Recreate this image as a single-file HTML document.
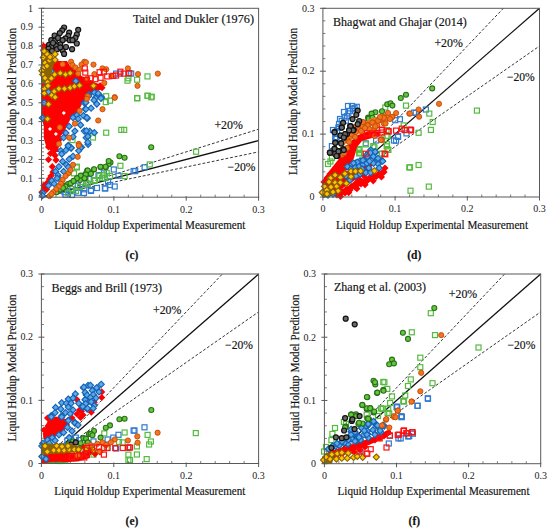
<!DOCTYPE html><html><head><meta charset="utf-8"><style>html,body{margin:0;padding:0;background:#fff;width:550px;height:530px;overflow:hidden}svg{display:block}text{font-family:"Liberation Serif",serif;stroke:#222;stroke-width:0.18px}text.t{stroke:none}</style></head><body>
<svg width="550" height="530" viewBox="0 0 550 530">
<rect width="550" height="530" fill="#fff"/>
<g id="pc">
<line x1="41.5" y1="197.2" x2="258.6" y2="140.53" stroke="#111" stroke-width="1.3"/>
<line x1="41.5" y1="197.2" x2="258.6" y2="129.19" stroke="#2a2a2a" stroke-width="0.95" stroke-dasharray="2.8,1.9"/>
<line x1="41.5" y1="197.2" x2="258.6" y2="151.86" stroke="#2a2a2a" stroke-width="0.95" stroke-dasharray="2.8,1.9"/>
<rect x="113.6" y="71.1" width="5" height="5" fill="none" stroke="#2f7ad0" stroke-width="1.2"/>
<rect x="117.5" y="71.1" width="5" height="5" fill="none" stroke="#2f7ad0" stroke-width="1.2"/>
<rect x="125.9" y="71.1" width="5" height="5" fill="none" stroke="#2f7ad0" stroke-width="1.2"/>
<rect x="128.7" y="71.1" width="5" height="5" fill="none" stroke="#2f7ad0" stroke-width="1.2"/>
<rect x="75.2" y="183.1" width="5" height="5" fill="none" stroke="#2f7ad0" stroke-width="1.2"/>
<rect x="83.7" y="181.2" width="5" height="5" fill="none" stroke="#2f7ad0" stroke-width="1.2"/>
<rect x="62.0" y="189.7" width="5" height="5" fill="none" stroke="#2f7ad0" stroke-width="1.2"/>
<rect x="68.6" y="188.7" width="5" height="5" fill="none" stroke="#2f7ad0" stroke-width="1.2"/>
<rect x="81.8" y="186.8" width="5" height="5" fill="none" stroke="#2f7ad0" stroke-width="1.2"/>
<rect x="111.3" y="167.0" width="5" height="5" fill="none" stroke="#2f7ad0" stroke-width="1.2"/>
<rect x="131.1" y="168.5" width="5" height="5" fill="none" stroke="#2f7ad0" stroke-width="1.2"/>
<rect x="116.0" y="173.2" width="5" height="5" fill="none" stroke="#2f7ad0" stroke-width="1.2"/>
<rect x="96.7" y="172.7" width="5" height="5" fill="none" stroke="#2f7ad0" stroke-width="1.2"/>
<rect x="101.4" y="170.8" width="5" height="5" fill="none" stroke="#2f7ad0" stroke-width="1.2"/>
<rect x="105.6" y="179.3" width="5" height="5" fill="none" stroke="#2f7ad0" stroke-width="1.2"/>
<rect x="112.2" y="184.0" width="5" height="5" fill="none" stroke="#2f7ad0" stroke-width="1.2"/>
<rect x="102.8" y="185.9" width="5" height="5" fill="none" stroke="#2f7ad0" stroke-width="1.2"/>
<rect x="88.6" y="187.8" width="5" height="5" fill="none" stroke="#2f7ad0" stroke-width="1.2"/>
<rect x="86.3" y="176.5" width="5" height="5" fill="none" stroke="#2f7ad0" stroke-width="1.2"/>
<rect x="132.7" y="168.6" width="5" height="5" fill="none" stroke="#2f7ad0" stroke-width="1.2"/>
<rect x="142.1" y="164.8" width="5" height="5" fill="none" stroke="#2f7ad0" stroke-width="1.2"/>
<rect x="63.0" y="192.2" width="5" height="5" fill="none" stroke="#2f7ad0" stroke-width="1.2"/>
<rect x="75.7" y="190.3" width="5" height="5" fill="none" stroke="#2f7ad0" stroke-width="1.2"/>
<rect x="88.4" y="188.4" width="5" height="5" fill="none" stroke="#2f7ad0" stroke-width="1.2"/>
<rect x="102.4" y="185.9" width="5" height="5" fill="none" stroke="#2f7ad0" stroke-width="1.2"/>
<rect x="96.0" y="173.1" width="5" height="5" fill="none" stroke="#2f7ad0" stroke-width="1.2"/>
<rect x="69.5" y="192.5" width="5" height="5" fill="none" stroke="#2f7ad0" stroke-width="1.2"/>
<rect x="81.5" y="190.5" width="5" height="5" fill="none" stroke="#2f7ad0" stroke-width="1.2"/>
<rect x="94.5" y="185.5" width="5" height="5" fill="none" stroke="#2f7ad0" stroke-width="1.2"/>
<rect x="107.5" y="182.5" width="5" height="5" fill="none" stroke="#2f7ad0" stroke-width="1.2"/>
<rect x="70.0" y="137.6" width="5" height="5" fill="none" stroke="#55bb40" stroke-width="1.2"/>
<rect x="74.3" y="164.2" width="5" height="5" fill="none" stroke="#55bb40" stroke-width="1.2"/>
<rect x="71.5" y="170.8" width="5" height="5" fill="none" stroke="#55bb40" stroke-width="1.2"/>
<rect x="125.0" y="78.2" width="5" height="5" fill="none" stroke="#55bb40" stroke-width="1.2"/>
<rect x="125.9" y="75.8" width="5" height="5" fill="none" stroke="#55bb40" stroke-width="1.2"/>
<rect x="103.7" y="93.7" width="5" height="5" fill="none" stroke="#55bb40" stroke-width="1.2"/>
<rect x="145.0" y="73.9" width="5" height="5" fill="none" stroke="#55bb40" stroke-width="1.2"/>
<rect x="134.6" y="77.2" width="5" height="5" fill="none" stroke="#55bb40" stroke-width="1.2"/>
<rect x="134.6" y="95.6" width="5" height="5" fill="none" stroke="#55bb40" stroke-width="1.2"/>
<rect x="145.0" y="93.3" width="5" height="5" fill="none" stroke="#55bb40" stroke-width="1.2"/>
<rect x="149.2" y="94.2" width="5" height="5" fill="none" stroke="#55bb40" stroke-width="1.2"/>
<rect x="103.3" y="99.6" width="5" height="5" fill="none" stroke="#55bb40" stroke-width="1.2"/>
<rect x="107.5" y="98.2" width="5" height="5" fill="none" stroke="#55bb40" stroke-width="1.2"/>
<rect x="103.7" y="130.2" width="5" height="5" fill="none" stroke="#55bb40" stroke-width="1.2"/>
<rect x="118.8" y="127.4" width="5" height="5" fill="none" stroke="#55bb40" stroke-width="1.2"/>
<rect x="121.7" y="127.4" width="5" height="5" fill="none" stroke="#55bb40" stroke-width="1.2"/>
<rect x="90.5" y="135.0" width="5" height="5" fill="none" stroke="#55bb40" stroke-width="1.2"/>
<rect x="117.9" y="163.3" width="5" height="5" fill="none" stroke="#55bb40" stroke-width="1.2"/>
<rect x="122.1" y="173.6" width="5" height="5" fill="none" stroke="#55bb40" stroke-width="1.2"/>
<rect x="104.2" y="170.3" width="5" height="5" fill="none" stroke="#55bb40" stroke-width="1.2"/>
<rect x="100.9" y="172.7" width="5" height="5" fill="none" stroke="#55bb40" stroke-width="1.2"/>
<rect x="102.3" y="175.5" width="5" height="5" fill="none" stroke="#55bb40" stroke-width="1.2"/>
<rect x="91.9" y="178.3" width="5" height="5" fill="none" stroke="#55bb40" stroke-width="1.2"/>
<rect x="83.9" y="180.2" width="5" height="5" fill="none" stroke="#55bb40" stroke-width="1.2"/>
<rect x="96.7" y="173.6" width="5" height="5" fill="none" stroke="#55bb40" stroke-width="1.2"/>
<rect x="134.8" y="95.8" width="5" height="5" fill="none" stroke="#55bb40" stroke-width="1.2"/>
<rect x="145.2" y="93.3" width="5" height="5" fill="none" stroke="#55bb40" stroke-width="1.2"/>
<rect x="148.9" y="94.8" width="5" height="5" fill="none" stroke="#55bb40" stroke-width="1.2"/>
<rect x="147.3" y="161.9" width="5" height="5" fill="none" stroke="#55bb40" stroke-width="1.2"/>
<rect x="193.6" y="149.2" width="5" height="5" fill="none" stroke="#55bb40" stroke-width="1.2"/>
<rect x="69.5" y="186.5" width="5" height="5" fill="none" stroke="#55bb40" stroke-width="1.2"/>
<rect x="77.5" y="184.5" width="5" height="5" fill="none" stroke="#55bb40" stroke-width="1.2"/>
<rect x="85.5" y="181.5" width="5" height="5" fill="none" stroke="#55bb40" stroke-width="1.2"/>
<rect x="92.5" y="177.5" width="5" height="5" fill="none" stroke="#55bb40" stroke-width="1.2"/>
<rect x="99.5" y="175.5" width="5" height="5" fill="none" stroke="#55bb40" stroke-width="1.2"/>
<rect x="107.5" y="173.5" width="5" height="5" fill="none" stroke="#55bb40" stroke-width="1.2"/>
<rect x="65.5" y="190.5" width="5" height="5" fill="none" stroke="#55bb40" stroke-width="1.2"/>
<rect x="73.5" y="188.5" width="5" height="5" fill="none" stroke="#55bb40" stroke-width="1.2"/>
<rect x="74.4" y="164.9" width="5" height="5" fill="none" stroke="#55bb40" stroke-width="1.2"/>
<path d="M41.5 47L46 45L50 50L52 57L58 61L67 61L70 66L74 70L77 75L84 77L90 80L96 83L103 85L104 89L96 91L90 96L86 99L82 104L79 110L74 115L70 120L69 122L66 128L64 133L62 140L59 146L58 152L52 152L46 146L43.8 138L43.8 126L42 120L41.5 110Z" fill="#ff0000"/>
<path d="M48.5 143.3L52.1 146.9L48.5 150.5L44.9 146.9Z" fill="#ff0000"/>
<path d="M54.2 147.1L57.80 150.7L54.2 154.29L50.6 150.7Z" fill="#ff0000"/>
<path d="M50.4 149.9L54.0 153.5L50.4 157.1L46.8 153.5Z" fill="#ff0000"/>
<path d="M55.1 151.8L58.7 155.4L55.1 159.0L51.5 155.4Z" fill="#ff0000"/>
<path d="M48.5 156.0L52.1 159.6L48.5 163.2L44.9 159.6Z" fill="#ff0000"/>
<path d="M56 156.5L59.6 160.1L56 163.7L52.4 160.1Z" fill="#ff0000"/>
<path d="M52.3 163.1L55.9 166.7L52.3 170.29L48.69 166.7Z" fill="#ff0000"/>
<path d="M49.4 175.4L53.0 179L49.4 182.6L45.8 179Z" fill="#ff0000"/>
<path d="M43.8 182.0L47.4 185.6L43.8 189.2L40.19 185.6Z" fill="#ff0000"/>
<path d="M46.6 185.70L50.2 189.3L46.6 192.9L43.0 189.3Z" fill="#ff0000"/>
<path d="M41.9 188.6L45.5 192.2L41.9 195.79L38.3 192.2Z" fill="#ff0000"/>
<path d="M51 172.4L54.6 176L51 179.6L47.4 176Z" fill="#ff0000"/>
<path d="M53 168.4L56.6 172L53 175.6L49.4 172Z" fill="#ff0000"/>
<path d="M47 179.4L50.6 183L47 186.6L43.4 183Z" fill="#ff0000"/>
<path d="M44 185.4L47.6 189L44 192.6L40.4 189Z" fill="#ff0000"/>
<path d="M100.1 82.2L103.69 85.8L100.1 89.39L96.5 85.8Z" fill="#ff0000"/>
<path d="M102 84.10L105.6 87.7L102 91.3L98.4 87.7Z" fill="#ff0000"/>
<path d="M89.7 84.10L93.3 87.7L89.7 91.3L86.10 87.7Z" fill="#ff0000"/>
<path d="M86.9 87.0L90.5 90.6L86.9 94.19L83.30 90.6Z" fill="#ff0000"/>
<path d="M43.5 42.4L47.1 46L43.5 49.6L39.9 46Z" fill="#ff0000"/>
<path d="M43.5 46.4L47.1 50L43.5 53.6L39.9 50Z" fill="#ff0000"/>
<path d="M46 43.4L49.6 47L46 50.6L42.4 47Z" fill="#ff0000"/>
<path d="M88 80.4L91.6 84L88 87.6L84.4 84Z" fill="#ff0000"/>
<path d="M84 76.4L87.6 80L84 83.6L80.4 80Z" fill="#ff0000"/>
<path d="M80 74.4L83.6 78L80 81.6L76.4 78Z" fill="#ff0000"/>
<path d="M70 65.4L73.6 69L70 72.6L66.4 69Z" fill="#ff0000"/>
<path d="M74 68.4L77.6 72L74 75.6L70.4 72Z" fill="#ff0000"/>
<path d="M59.3 124.7L61.3 126.7L59.3 128.7L57.3 126.7Z" fill="#fff"/>
<path d="M63.8 111.1L65.8 113.1L63.8 115.1L61.8 113.1Z" fill="#fff"/>
<path d="M55.9 132L57.9 134L55.9 136L53.9 134Z" fill="#fff"/>
<path d="M62.6 134L64.6 136L62.6 138L60.6 136Z" fill="#fff"/>
<path d="M50 127L52 129L50 131L48 129Z" fill="#fff"/>
<path d="M51.3 68.10L54.4 71.2L51.3 74.3L48.19 71.2Z" fill="#5ea8e6" stroke="#1262b5" stroke-width="1.1"/>
<path d="M44.7 78.0L47.80 81.1L44.7 84.19L41.6 81.1Z" fill="#5ea8e6" stroke="#1262b5" stroke-width="1.1"/>
<path d="M75.8 78.0L78.89 81.1L75.8 84.19L72.7 81.1Z" fill="#5ea8e6" stroke="#1262b5" stroke-width="1.1"/>
<path d="M48.5 88.9L51.6 92L48.5 95.1L45.4 92Z" fill="#5ea8e6" stroke="#1262b5" stroke-width="1.1"/>
<path d="M44.2 99.7L47.30 102.8L44.2 105.89L41.1 102.8Z" fill="#5ea8e6" stroke="#1262b5" stroke-width="1.1"/>
<path d="M42.4 114.80L45.5 117.9L42.4 121.0L39.3 117.9Z" fill="#5ea8e6" stroke="#1262b5" stroke-width="1.1"/>
<path d="M84.3 99.7L87.39 102.8L84.3 105.89L81.2 102.8Z" fill="#5ea8e6" stroke="#1262b5" stroke-width="1.1"/>
<path d="M85.3 105.9L88.39 109L85.3 112.1L82.2 109Z" fill="#5ea8e6" stroke="#1262b5" stroke-width="1.1"/>
<path d="M76.8 112.0L79.89 115.1L76.8 118.19L73.7 115.1Z" fill="#5ea8e6" stroke="#1262b5" stroke-width="1.1"/>
<path d="M73 114.4L76.1 117.5L73 120.6L69.9 117.5Z" fill="#5ea8e6" stroke="#1262b5" stroke-width="1.1"/>
<path d="M78.2 115.80L81.3 118.9L78.2 122.0L75.10 118.9Z" fill="#5ea8e6" stroke="#1262b5" stroke-width="1.1"/>
<path d="M83.4 112.5L86.5 115.6L83.4 118.69L80.30 115.6Z" fill="#5ea8e6" stroke="#1262b5" stroke-width="1.1"/>
<path d="M87.2 115.30L90.3 118.4L87.2 121.5L84.10 118.4Z" fill="#5ea8e6" stroke="#1262b5" stroke-width="1.1"/>
<path d="M80.6 121.9L83.69 125L80.6 128.1L77.5 125Z" fill="#5ea8e6" stroke="#1262b5" stroke-width="1.1"/>
<path d="M69.2 123.30L72.3 126.4L69.2 129.5L66.10 126.4Z" fill="#5ea8e6" stroke="#1262b5" stroke-width="1.1"/>
<path d="M74.9 128.0L78.0 131.1L74.9 134.2L71.80 131.1Z" fill="#5ea8e6" stroke="#1262b5" stroke-width="1.1"/>
<path d="M65.9 129.9L69.0 133L65.9 136.1L62.80 133Z" fill="#5ea8e6" stroke="#1262b5" stroke-width="1.1"/>
<path d="M63.6 134.6L66.7 137.7L63.6 140.79L60.5 137.7Z" fill="#5ea8e6" stroke="#1262b5" stroke-width="1.1"/>
<path d="M73 133.70L76.1 136.8L73 139.9L69.9 136.8Z" fill="#5ea8e6" stroke="#1262b5" stroke-width="1.1"/>
<path d="M84.3 128.0L87.39 131.1L84.3 134.2L81.2 131.1Z" fill="#5ea8e6" stroke="#1262b5" stroke-width="1.1"/>
<path d="M86.2 134.6L89.3 137.7L86.2 140.79L83.10 137.7Z" fill="#5ea8e6" stroke="#1262b5" stroke-width="1.1"/>
<path d="M68.3 142.20L71.39 145.3L68.3 148.4L65.2 145.3Z" fill="#5ea8e6" stroke="#1262b5" stroke-width="1.1"/>
<path d="M71.1 145.0L74.19 148.1L71.1 151.2L68.0 148.1Z" fill="#5ea8e6" stroke="#1262b5" stroke-width="1.1"/>
<path d="M81.5 144.1L84.6 147.2L81.5 150.29L78.4 147.2Z" fill="#5ea8e6" stroke="#1262b5" stroke-width="1.1"/>
<path d="M88.1 141.20L91.19 144.3L88.1 147.4L85.0 144.3Z" fill="#5ea8e6" stroke="#1262b5" stroke-width="1.1"/>
<path d="M60.8 147.6L63.9 150.7L60.8 153.79L57.69 150.7Z" fill="#5ea8e6" stroke="#1262b5" stroke-width="1.1"/>
<path d="M65.9 147.1L69.0 150.2L65.9 153.29L62.80 150.2Z" fill="#5ea8e6" stroke="#1262b5" stroke-width="1.1"/>
<path d="M71.1 144.70L74.19 147.8L71.1 150.9L68.0 147.8Z" fill="#5ea8e6" stroke="#1262b5" stroke-width="1.1"/>
<path d="M68.3 142.8L71.39 145.9L68.3 149.0L65.2 145.9Z" fill="#5ea8e6" stroke="#1262b5" stroke-width="1.1"/>
<path d="M80.6 144.70L83.69 147.8L80.6 150.9L77.5 147.8Z" fill="#5ea8e6" stroke="#1262b5" stroke-width="1.1"/>
<path d="M78.7 147.6L81.8 150.7L78.7 153.79L75.60 150.7Z" fill="#5ea8e6" stroke="#1262b5" stroke-width="1.1"/>
<path d="M61.7 150.9L64.8 154L61.7 157.1L58.6 154Z" fill="#5ea8e6" stroke="#1262b5" stroke-width="1.1"/>
<path d="M73 153.20L76.1 156.3L73 159.4L69.9 156.3Z" fill="#5ea8e6" stroke="#1262b5" stroke-width="1.1"/>
<path d="M69.2 156.1L72.3 159.2L69.2 162.29L66.10 159.2Z" fill="#5ea8e6" stroke="#1262b5" stroke-width="1.1"/>
<path d="M62.6 158.4L65.7 161.5L62.6 164.6L59.5 161.5Z" fill="#5ea8e6" stroke="#1262b5" stroke-width="1.1"/>
<path d="M66.4 161.70L69.5 164.8L66.4 167.9L63.30 164.8Z" fill="#5ea8e6" stroke="#1262b5" stroke-width="1.1"/>
<path d="M68.3 164.1L71.39 167.2L68.3 170.29L65.2 167.2Z" fill="#5ea8e6" stroke="#1262b5" stroke-width="1.1"/>
<path d="M58.9 163.6L62.0 166.7L58.9 169.79L55.8 166.7Z" fill="#5ea8e6" stroke="#1262b5" stroke-width="1.1"/>
<path d="M55.6 168.3L58.7 171.4L55.6 174.5L52.5 171.4Z" fill="#5ea8e6" stroke="#1262b5" stroke-width="1.1"/>
<path d="M63.6 168.3L66.7 171.4L63.6 174.5L60.5 171.4Z" fill="#5ea8e6" stroke="#1262b5" stroke-width="1.1"/>
<path d="M57.9 172.1L61.0 175.2L57.9 178.29L54.8 175.2Z" fill="#5ea8e6" stroke="#1262b5" stroke-width="1.1"/>
<path d="M59.8 175.9L62.9 179L59.8 182.1L56.69 179Z" fill="#5ea8e6" stroke="#1262b5" stroke-width="1.1"/>
<path d="M51.8 177.70L54.9 180.8L51.8 183.9L48.69 180.8Z" fill="#5ea8e6" stroke="#1262b5" stroke-width="1.1"/>
<path d="M54.2 180.6L57.30 183.7L54.2 186.79L51.1 183.7Z" fill="#5ea8e6" stroke="#1262b5" stroke-width="1.1"/>
<path d="M48.5 182.5L51.6 185.6L48.5 188.7L45.4 185.6Z" fill="#5ea8e6" stroke="#1262b5" stroke-width="1.1"/>
<path d="M42.8 190.0L45.9 193.1L42.8 196.2L39.69 193.1Z" fill="#5ea8e6" stroke="#1262b5" stroke-width="1.1"/>
<path d="M88.8 91.2L91.89 94.3L88.8 97.39L85.7 94.3Z" fill="#5ea8e6" stroke="#1262b5" stroke-width="1.1"/>
<path d="M94.4 89.4L97.5 92.5L94.4 95.6L91.30 92.5Z" fill="#5ea8e6" stroke="#1262b5" stroke-width="1.1"/>
<path d="M98.2 90.30L101.3 93.4L98.2 96.5L95.10 93.4Z" fill="#5ea8e6" stroke="#1262b5" stroke-width="1.1"/>
<path d="M101.5 94.10L104.6 97.2L101.5 100.3L98.4 97.2Z" fill="#5ea8e6" stroke="#1262b5" stroke-width="1.1"/>
<path d="M95.4 95.0L98.5 98.1L95.4 101.19L92.30 98.1Z" fill="#5ea8e6" stroke="#1262b5" stroke-width="1.1"/>
<path d="M88.8 92.80L91.89 95.9L88.8 99.0L85.7 95.9Z" fill="#5ea8e6" stroke="#1262b5" stroke-width="1.1"/>
<path d="M94 97.10L97.1 100.2L94 103.3L90.9 100.2Z" fill="#5ea8e6" stroke="#1262b5" stroke-width="1.1"/>
<path d="M96.8 100.9L99.89 104L96.8 107.1L93.7 104Z" fill="#5ea8e6" stroke="#1262b5" stroke-width="1.1"/>
<path d="M101 95.2L104.1 98.3L101 101.39L97.9 98.3Z" fill="#5ea8e6" stroke="#1262b5" stroke-width="1.1"/>
<path d="M91.1 105.10L94.19 108.2L91.1 111.3L88.0 108.2Z" fill="#5ea8e6" stroke="#1262b5" stroke-width="1.1"/>
<path d="M85.9 99.4L89.0 102.5L85.9 105.6L82.80 102.5Z" fill="#5ea8e6" stroke="#1262b5" stroke-width="1.1"/>
<path d="M85.9 106.10L89.0 109.2L85.9 112.3L82.80 109.2Z" fill="#5ea8e6" stroke="#1262b5" stroke-width="1.1"/>
<path d="M86.9 114.5L90.0 117.6L86.9 120.69L83.80 117.6Z" fill="#5ea8e6" stroke="#1262b5" stroke-width="1.1"/>
<path d="M89.7 128.20L92.8 131.3L89.7 134.4L86.60 131.3Z" fill="#5ea8e6" stroke="#1262b5" stroke-width="1.1"/>
<path d="M94.4 129.6L97.5 132.7L94.4 135.79L91.30 132.7Z" fill="#5ea8e6" stroke="#1262b5" stroke-width="1.1"/>
<path d="M86.4 127.70L89.5 130.8L86.4 133.9L83.30 130.8Z" fill="#5ea8e6" stroke="#1262b5" stroke-width="1.1"/>
<path d="M87.8 133.4L90.89 136.5L87.8 139.6L84.7 136.5Z" fill="#5ea8e6" stroke="#1262b5" stroke-width="1.1"/>
<path d="M87.8 139.1L90.89 142.2L87.8 145.29L84.7 142.2Z" fill="#5ea8e6" stroke="#1262b5" stroke-width="1.1"/>
<path d="M42.4 192.6L45.5 195.7L42.4 198.79L39.3 195.7Z" fill="#5ea8e6" stroke="#1262b5" stroke-width="1.1"/>
<path d="M57.1 175.20L60.2 178.3L57.1 181.4L54.0 178.3Z" fill="#5ea8e6" stroke="#1262b5" stroke-width="1.1"/>
<circle cx="87.2" cy="170.5" r="2.5" fill="#62c83a" stroke="#2b6e1c" stroke-width="1.1"/>
<circle cx="85.3" cy="174.2" r="2.5" fill="#62c83a" stroke="#2b6e1c" stroke-width="1.1"/>
<circle cx="81.5" cy="176.1" r="2.5" fill="#62c83a" stroke="#2b6e1c" stroke-width="1.1"/>
<circle cx="77.7" cy="178" r="2.5" fill="#62c83a" stroke="#2b6e1c" stroke-width="1.1"/>
<circle cx="71.1" cy="182.7" r="2.5" fill="#62c83a" stroke="#2b6e1c" stroke-width="1.1"/>
<circle cx="65.5" cy="185.6" r="2.5" fill="#62c83a" stroke="#2b6e1c" stroke-width="1.1"/>
<circle cx="61.7" cy="188.4" r="2.5" fill="#62c83a" stroke="#2b6e1c" stroke-width="1.1"/>
<circle cx="57.9" cy="191.2" r="2.5" fill="#62c83a" stroke="#2b6e1c" stroke-width="1.1"/>
<circle cx="74" cy="180.8" r="2.5" fill="#62c83a" stroke="#2b6e1c" stroke-width="1.1"/>
<circle cx="119.4" cy="156.3" r="2.5" fill="#62c83a" stroke="#2b6e1c" stroke-width="1.1"/>
<circle cx="124.6" cy="157.7" r="2.5" fill="#62c83a" stroke="#2b6e1c" stroke-width="1.1"/>
<circle cx="110.5" cy="162.5" r="2.5" fill="#62c83a" stroke="#2b6e1c" stroke-width="1.1"/>
<circle cx="108.6" cy="164.3" r="2.5" fill="#62c83a" stroke="#2b6e1c" stroke-width="1.1"/>
<circle cx="105.8" cy="167.2" r="2.5" fill="#62c83a" stroke="#2b6e1c" stroke-width="1.1"/>
<circle cx="100.6" cy="167.2" r="2.5" fill="#62c83a" stroke="#2b6e1c" stroke-width="1.1"/>
<circle cx="94" cy="169.5" r="2.5" fill="#62c83a" stroke="#2b6e1c" stroke-width="1.1"/>
<circle cx="87.8" cy="171" r="2.5" fill="#62c83a" stroke="#2b6e1c" stroke-width="1.1"/>
<circle cx="90.7" cy="173.3" r="2.5" fill="#62c83a" stroke="#2b6e1c" stroke-width="1.1"/>
<circle cx="85.9" cy="174.2" r="2.5" fill="#62c83a" stroke="#2b6e1c" stroke-width="1.1"/>
<circle cx="85.5" cy="178" r="2.5" fill="#62c83a" stroke="#2b6e1c" stroke-width="1.1"/>
<circle cx="151.2" cy="147.2" r="2.5" fill="#62c83a" stroke="#2b6e1c" stroke-width="1.1"/>
<circle cx="68" cy="184" r="2.5" fill="#62c83a" stroke="#2b6e1c" stroke-width="1.1"/>
<circle cx="63" cy="187" r="2.5" fill="#62c83a" stroke="#2b6e1c" stroke-width="1.1"/>
<circle cx="80" cy="180" r="2.5" fill="#62c83a" stroke="#2b6e1c" stroke-width="1.1"/>
<circle cx="108.7" cy="161" r="2.5" fill="#62c83a" stroke="#2b6e1c" stroke-width="1.1"/>
<circle cx="105.5" cy="166.7" r="2.5" fill="#62c83a" stroke="#2b6e1c" stroke-width="1.1"/>
<circle cx="100.5" cy="166.7" r="2.5" fill="#62c83a" stroke="#2b6e1c" stroke-width="1.1"/>
<circle cx="94.1" cy="169.3" r="2.5" fill="#62c83a" stroke="#2b6e1c" stroke-width="1.1"/>
<circle cx="87.7" cy="170.5" r="2.5" fill="#62c83a" stroke="#2b6e1c" stroke-width="1.1"/>
<circle cx="85.8" cy="174.4" r="2.5" fill="#62c83a" stroke="#2b6e1c" stroke-width="1.1"/>
<circle cx="80.7" cy="175.6" r="2.5" fill="#62c83a" stroke="#2b6e1c" stroke-width="1.1"/>
<circle cx="76.9" cy="178.2" r="2.5" fill="#62c83a" stroke="#2b6e1c" stroke-width="1.1"/>
<circle cx="70.5" cy="183.3" r="2.5" fill="#62c83a" stroke="#2b6e1c" stroke-width="1.1"/>
<circle cx="65.5" cy="186.5" r="2.5" fill="#62c83a" stroke="#2b6e1c" stroke-width="1.1"/>
<circle cx="60.4" cy="189.6" r="2.5" fill="#62c83a" stroke="#2b6e1c" stroke-width="1.1"/>
<circle cx="56.5" cy="192.2" r="2.5" fill="#62c83a" stroke="#2b6e1c" stroke-width="1.1"/>
<circle cx="90.9" cy="173.7" r="2.5" fill="#62c83a" stroke="#2b6e1c" stroke-width="1.1"/>
<circle cx="84.5" cy="178.2" r="2.5" fill="#62c83a" stroke="#2b6e1c" stroke-width="1.1"/>
<circle cx="73.5" cy="181" r="2.5" fill="#62c83a" stroke="#2b6e1c" stroke-width="1.1"/>
<circle cx="63" cy="188" r="2.5" fill="#62c83a" stroke="#2b6e1c" stroke-width="1.1"/>
<circle cx="71.1" cy="61.8" r="2.6" fill="#f2741c" stroke="#c24c0a" stroke-width="0.9"/>
<circle cx="72.5" cy="65.1" r="2.6" fill="#f2741c" stroke="#c24c0a" stroke-width="0.9"/>
<circle cx="75.4" cy="67.5" r="2.6" fill="#f2741c" stroke="#c24c0a" stroke-width="0.9"/>
<circle cx="62.6" cy="64.2" r="2.6" fill="#f2741c" stroke="#c24c0a" stroke-width="0.9"/>
<circle cx="84.3" cy="61.8" r="2.6" fill="#f2741c" stroke="#c24c0a" stroke-width="0.9"/>
<circle cx="81.5" cy="64.6" r="2.6" fill="#f2741c" stroke="#c24c0a" stroke-width="0.9"/>
<circle cx="79.2" cy="69.8" r="2.6" fill="#f2741c" stroke="#c24c0a" stroke-width="0.9"/>
<circle cx="78.2" cy="73.6" r="2.6" fill="#f2741c" stroke="#c24c0a" stroke-width="0.9"/>
<circle cx="87.2" cy="78.3" r="2.6" fill="#f2741c" stroke="#c24c0a" stroke-width="0.9"/>
<circle cx="87.6" cy="96.2" r="2.6" fill="#f2741c" stroke="#c24c0a" stroke-width="0.9"/>
<circle cx="79.6" cy="110.8" r="2.6" fill="#f2741c" stroke="#c24c0a" stroke-width="0.9"/>
<circle cx="74.9" cy="123.6" r="2.6" fill="#f2741c" stroke="#c24c0a" stroke-width="0.9"/>
<circle cx="59.8" cy="127.4" r="2.6" fill="#f2741c" stroke="#c24c0a" stroke-width="0.9"/>
<circle cx="58.9" cy="143.9" r="2.6" fill="#f2741c" stroke="#c24c0a" stroke-width="0.9"/>
<circle cx="78.7" cy="143.9" r="2.6" fill="#f2741c" stroke="#c24c0a" stroke-width="0.9"/>
<circle cx="69.2" cy="137.7" r="2.6" fill="#f2741c" stroke="#c24c0a" stroke-width="0.9"/>
<circle cx="77.7" cy="156.8" r="2.6" fill="#f2741c" stroke="#c24c0a" stroke-width="0.9"/>
<circle cx="73" cy="164.8" r="2.6" fill="#f2741c" stroke="#c24c0a" stroke-width="0.9"/>
<circle cx="68.3" cy="173.3" r="2.6" fill="#f2741c" stroke="#c24c0a" stroke-width="0.9"/>
<circle cx="65.5" cy="176.1" r="2.6" fill="#f2741c" stroke="#c24c0a" stroke-width="0.9"/>
<circle cx="62.6" cy="179.9" r="2.6" fill="#f2741c" stroke="#c24c0a" stroke-width="0.9"/>
<circle cx="60.8" cy="183.7" r="2.6" fill="#f2741c" stroke="#c24c0a" stroke-width="0.9"/>
<circle cx="58.9" cy="186.5" r="2.6" fill="#f2741c" stroke="#c24c0a" stroke-width="0.9"/>
<circle cx="56" cy="189.3" r="2.6" fill="#f2741c" stroke="#c24c0a" stroke-width="0.9"/>
<circle cx="53.2" cy="192.2" r="2.6" fill="#f2741c" stroke="#c24c0a" stroke-width="0.9"/>
<circle cx="78.7" cy="145.5" r="2.6" fill="#f2741c" stroke="#c24c0a" stroke-width="0.9"/>
<circle cx="70.5" cy="170" r="2.6" fill="#f2741c" stroke="#c24c0a" stroke-width="0.9"/>
<circle cx="49.5" cy="196" r="2.6" fill="#f2741c" stroke="#c24c0a" stroke-width="0.9"/>
<circle cx="51.5" cy="194" r="2.6" fill="#f2741c" stroke="#c24c0a" stroke-width="0.9"/>
<circle cx="85.9" cy="62.3" r="2.6" fill="#f2741c" stroke="#c24c0a" stroke-width="0.9"/>
<circle cx="93.5" cy="64.6" r="2.6" fill="#f2741c" stroke="#c24c0a" stroke-width="0.9"/>
<circle cx="102.5" cy="68.4" r="2.6" fill="#f2741c" stroke="#c24c0a" stroke-width="0.9"/>
<circle cx="106.2" cy="69.3" r="2.6" fill="#f2741c" stroke="#c24c0a" stroke-width="0.9"/>
<circle cx="94.4" cy="74.1" r="2.6" fill="#f2741c" stroke="#c24c0a" stroke-width="0.9"/>
<circle cx="104.3" cy="83" r="2.6" fill="#f2741c" stroke="#c24c0a" stroke-width="0.9"/>
<circle cx="127.9" cy="68.4" r="2.6" fill="#f2741c" stroke="#c24c0a" stroke-width="0.9"/>
<circle cx="114.7" cy="97.2" r="2.6" fill="#f2741c" stroke="#c24c0a" stroke-width="0.9"/>
<circle cx="111.4" cy="76.4" r="2.6" fill="#f2741c" stroke="#c24c0a" stroke-width="0.9"/>
<circle cx="138" cy="74.1" r="2.6" fill="#f2741c" stroke="#c24c0a" stroke-width="0.9"/>
<circle cx="157.8" cy="73.6" r="2.6" fill="#f2741c" stroke="#c24c0a" stroke-width="0.9"/>
<circle cx="137.5" cy="85.8" r="2.6" fill="#f2741c" stroke="#c24c0a" stroke-width="0.9"/>
<circle cx="86.9" cy="98.8" r="2.6" fill="#f2741c" stroke="#c24c0a" stroke-width="0.9"/>
<circle cx="114.7" cy="97.8" r="2.6" fill="#f2741c" stroke="#c24c0a" stroke-width="0.9"/>
<circle cx="102.5" cy="109.2" r="2.6" fill="#f2741c" stroke="#c24c0a" stroke-width="0.9"/>
<circle cx="98.2" cy="120.5" r="2.6" fill="#f2741c" stroke="#c24c0a" stroke-width="0.9"/>
<circle cx="64.1" cy="27.5" r="2.5" fill="#6a6a6a" stroke="#111" stroke-width="1.2"/>
<circle cx="62.2" cy="30.3" r="2.5" fill="#6a6a6a" stroke="#111" stroke-width="1.2"/>
<circle cx="59.8" cy="33.1" r="2.5" fill="#6a6a6a" stroke="#111" stroke-width="1.2"/>
<circle cx="54.6" cy="35.5" r="2.5" fill="#6a6a6a" stroke="#111" stroke-width="1.2"/>
<circle cx="51.3" cy="40.2" r="2.5" fill="#6a6a6a" stroke="#111" stroke-width="1.2"/>
<circle cx="55.1" cy="40.7" r="2.5" fill="#6a6a6a" stroke="#111" stroke-width="1.2"/>
<circle cx="78.2" cy="29.8" r="2.5" fill="#6a6a6a" stroke="#111" stroke-width="1.2"/>
<circle cx="76.8" cy="34.5" r="2.5" fill="#6a6a6a" stroke="#111" stroke-width="1.2"/>
<circle cx="75.4" cy="37.8" r="2.5" fill="#6a6a6a" stroke="#111" stroke-width="1.2"/>
<circle cx="69.2" cy="32.6" r="2.5" fill="#6a6a6a" stroke="#111" stroke-width="1.2"/>
<circle cx="68.3" cy="35.9" r="2.5" fill="#6a6a6a" stroke="#111" stroke-width="1.2"/>
<circle cx="65.5" cy="38.3" r="2.5" fill="#6a6a6a" stroke="#111" stroke-width="1.2"/>
<circle cx="62.6" cy="40.2" r="2.5" fill="#6a6a6a" stroke="#111" stroke-width="1.2"/>
<circle cx="69.7" cy="40.2" r="2.5" fill="#6a6a6a" stroke="#111" stroke-width="1.2"/>
<circle cx="72.5" cy="40.2" r="2.5" fill="#6a6a6a" stroke="#111" stroke-width="1.2"/>
<circle cx="76.8" cy="43.5" r="2.5" fill="#6a6a6a" stroke="#111" stroke-width="1.2"/>
<circle cx="60.3" cy="44.4" r="2.5" fill="#6a6a6a" stroke="#111" stroke-width="1.2"/>
<circle cx="49" cy="44.9" r="2.5" fill="#6a6a6a" stroke="#111" stroke-width="1.2"/>
<circle cx="51.8" cy="46.3" r="2.5" fill="#6a6a6a" stroke="#111" stroke-width="1.2"/>
<circle cx="56" cy="45.8" r="2.5" fill="#6a6a6a" stroke="#111" stroke-width="1.2"/>
<circle cx="48.5" cy="48.7" r="2.5" fill="#6a6a6a" stroke="#111" stroke-width="1.2"/>
<circle cx="57" cy="49.2" r="2.5" fill="#6a6a6a" stroke="#111" stroke-width="1.2"/>
<circle cx="62.6" cy="50.6" r="2.5" fill="#6a6a6a" stroke="#111" stroke-width="1.2"/>
<circle cx="72.1" cy="49.2" r="2.5" fill="#6a6a6a" stroke="#111" stroke-width="1.2"/>
<circle cx="64.1" cy="53.9" r="2.5" fill="#6a6a6a" stroke="#111" stroke-width="1.2"/>
<circle cx="60.3" cy="47.3" r="2.5" fill="#6a6a6a" stroke="#111" stroke-width="1.2"/>
<circle cx="53" cy="43" r="2.5" fill="#6a6a6a" stroke="#111" stroke-width="1.2"/>
<circle cx="58" cy="38" r="2.5" fill="#6a6a6a" stroke="#111" stroke-width="1.2"/>
<circle cx="66" cy="47" r="2.5" fill="#6a6a6a" stroke="#111" stroke-width="1.2"/>
<circle cx="47" cy="52" r="2.5" fill="#6a6a6a" stroke="#111" stroke-width="1.2"/>
<circle cx="52" cy="51" r="2.5" fill="#6a6a6a" stroke="#111" stroke-width="1.2"/>
<path d="M41.5 52L47 50L52 56L54 63L52 72L48 80L44 84L41.5 84Z" fill="#8a6508"/>
<path d="M47.1 51.1L50.2 54.2L47.1 57.30L44.0 54.2Z" fill="#ffc400" stroke="#8a6200" stroke-width="1.1"/>
<path d="M55.1 51.1L58.2 54.2L55.1 57.30L52.0 54.2Z" fill="#ffc400" stroke="#8a6200" stroke-width="1.1"/>
<path d="M43.3 54.4L46.4 57.5L43.3 60.6L40.19 57.5Z" fill="#ffc400" stroke="#8a6200" stroke-width="1.1"/>
<path d="M49.4 57.3L52.5 60.4L49.4 63.5L46.3 60.4Z" fill="#ffc400" stroke="#8a6200" stroke-width="1.1"/>
<path d="M55.1 56.8L58.2 59.9L55.1 63.0L52.0 59.9Z" fill="#ffc400" stroke="#8a6200" stroke-width="1.1"/>
<path d="M43.8 64.4L46.9 67.5L43.8 70.6L40.69 67.5Z" fill="#ffc400" stroke="#8a6200" stroke-width="1.1"/>
<path d="M41.9 67.7L45.0 70.8L41.9 73.89L38.8 70.8Z" fill="#ffc400" stroke="#8a6200" stroke-width="1.1"/>
<path d="M42.8 71.4L45.9 74.5L42.8 77.6L39.69 74.5Z" fill="#ffc400" stroke="#8a6200" stroke-width="1.1"/>
<path d="M51.3 75.2L54.4 78.3L51.3 81.39L48.19 78.3Z" fill="#ffc400" stroke="#8a6200" stroke-width="1.1"/>
<path d="M54.6 71.4L57.7 74.5L54.6 77.6L51.5 74.5Z" fill="#ffc400" stroke="#8a6200" stroke-width="1.1"/>
<path d="M60.3 70.0L63.4 73.1L60.3 76.19L57.19 73.1Z" fill="#ffc400" stroke="#8a6200" stroke-width="1.1"/>
<path d="M65.5 71.4L68.6 74.5L65.5 77.6L62.4 74.5Z" fill="#ffc400" stroke="#8a6200" stroke-width="1.1"/>
<path d="M70.2 70.0L73.3 73.1L70.2 76.19L67.10 73.1Z" fill="#ffc400" stroke="#8a6200" stroke-width="1.1"/>
<path d="M47.5 79.0L50.6 82.1L47.5 85.19L44.4 82.1Z" fill="#ffc400" stroke="#8a6200" stroke-width="1.1"/>
<path d="M44.2 85.60L47.30 88.7L44.2 91.8L41.1 88.7Z" fill="#ffc400" stroke="#8a6200" stroke-width="1.1"/>
<path d="M48 82.7L51.1 85.8L48 88.89L44.9 85.8Z" fill="#ffc400" stroke="#8a6200" stroke-width="1.1"/>
<path d="M54.2 88.4L57.30 91.5L54.2 94.6L51.1 91.5Z" fill="#ffc400" stroke="#8a6200" stroke-width="1.1"/>
<path d="M58.9 85.60L62.0 88.7L58.9 91.8L55.8 88.7Z" fill="#ffc400" stroke="#8a6200" stroke-width="1.1"/>
<path d="M64.5 85.60L67.6 88.7L64.5 91.8L61.4 88.7Z" fill="#ffc400" stroke="#8a6200" stroke-width="1.1"/>
<path d="M70.2 84.60L73.3 87.7L70.2 90.8L67.10 87.7Z" fill="#ffc400" stroke="#8a6200" stroke-width="1.1"/>
<path d="M74.4 83.2L77.5 86.3L74.4 89.39L71.30 86.3Z" fill="#ffc400" stroke="#8a6200" stroke-width="1.1"/>
<path d="M79.6 82.30L82.69 85.4L79.6 88.5L76.5 85.4Z" fill="#ffc400" stroke="#8a6200" stroke-width="1.1"/>
<path d="M44.2 90.30L47.30 93.4L44.2 96.5L41.1 93.4Z" fill="#ffc400" stroke="#8a6200" stroke-width="1.1"/>
<path d="M51.8 92.2L54.9 95.3L51.8 98.39L48.69 95.3Z" fill="#ffc400" stroke="#8a6200" stroke-width="1.1"/>
<path d="M55.1 94.10L58.2 97.2L55.1 100.3L52.0 97.2Z" fill="#ffc400" stroke="#8a6200" stroke-width="1.1"/>
<path d="M48.5 101.10L51.6 104.2L48.5 107.3L45.4 104.2Z" fill="#ffc400" stroke="#8a6200" stroke-width="1.1"/>
<path d="M47.5 115.80L50.6 118.9L47.5 122.0L44.4 118.9Z" fill="#ffc400" stroke="#8a6200" stroke-width="1.1"/>
<path d="M93.5 82.7L96.6 85.8L93.5 88.89L90.4 85.8Z" fill="#ffc400" stroke="#8a6200" stroke-width="1.1"/>
<path d="M45 59.9L48.1 63L45 66.1L41.9 63Z" fill="#ffc400" stroke="#8a6200" stroke-width="1.1"/>
<path d="M47 62.9L50.1 66L47 69.1L43.9 66Z" fill="#ffc400" stroke="#8a6200" stroke-width="1.1"/>
<path d="M44 47.9L47.1 51L44 54.1L40.9 51Z" fill="#ffc400" stroke="#8a6200" stroke-width="1.1"/>
<path d="M50 53.9L53.1 57L50 60.1L46.9 57Z" fill="#ffc400" stroke="#8a6200" stroke-width="1.1"/>
<path d="M45 74.9L48.1 78L45 81.1L41.9 78Z" fill="#ffc400" stroke="#8a6200" stroke-width="1.1"/>
<rect x="82.3" y="65.9" width="5" height="5" fill="none" stroke="#ff1010" stroke-width="1.2"/>
<rect x="82.8" y="70.1" width="5" height="5" fill="none" stroke="#ff1010" stroke-width="1.2"/>
<rect x="97.1" y="69.7" width="5" height="5" fill="none" stroke="#ff1010" stroke-width="1.2"/>
<rect x="101.4" y="69.2" width="5" height="5" fill="none" stroke="#ff1010" stroke-width="1.2"/>
<rect x="104.7" y="73.9" width="5" height="5" fill="none" stroke="#ff1010" stroke-width="1.2"/>
<rect x="110.8" y="73.4" width="5" height="5" fill="none" stroke="#ff1010" stroke-width="1.2"/>
<rect x="113.6" y="73.0" width="5" height="5" fill="none" stroke="#ff1010" stroke-width="1.2"/>
<rect x="117.9" y="69.2" width="5" height="5" fill="none" stroke="#ff1010" stroke-width="1.2"/>
<rect x="121.2" y="71.1" width="5" height="5" fill="none" stroke="#ff1010" stroke-width="1.2"/>
<rect x="126.80" y="70.6" width="5" height="5" fill="none" stroke="#ff1010" stroke-width="1.2"/>
<rect x="88.2" y="75.8" width="5" height="5" fill="none" stroke="#ff1010" stroke-width="1.2"/>
<rect x="92.9" y="76.7" width="5" height="5" fill="none" stroke="#ff1010" stroke-width="1.2"/>
<rect x="98.1" y="75.3" width="5" height="5" fill="none" stroke="#ff1010" stroke-width="1.2"/>
<rect x="84.4" y="77.7" width="5" height="5" fill="none" stroke="#ff1010" stroke-width="1.2"/>
<rect x="41.5" y="8.3" width="217.10" height="188.89" fill="none" stroke="#595959" stroke-width="1"/>
<line x1="38.5" y1="197.2" x2="44.5" y2="197.2" stroke="#595959" stroke-width="1"/>
<text x="33.0" y="200.5" class="t" text-anchor="end" font-size="10" fill="#222">0</text>
<line x1="41.5" y1="193.42" x2="44.0" y2="193.42" stroke="#595959" stroke-width="0.8"/>
<line x1="41.5" y1="189.64" x2="44.0" y2="189.64" stroke="#595959" stroke-width="0.8"/>
<line x1="41.5" y1="185.86" x2="44.0" y2="185.86" stroke="#595959" stroke-width="0.8"/>
<line x1="41.5" y1="182.08" x2="44.0" y2="182.08" stroke="#595959" stroke-width="0.8"/>
<line x1="38.5" y1="178.31" x2="44.5" y2="178.31" stroke="#595959" stroke-width="1"/>
<text x="33.0" y="181.61" class="t" text-anchor="end" font-size="10" fill="#222">0.1</text>
<line x1="41.5" y1="174.53" x2="44.0" y2="174.53" stroke="#595959" stroke-width="0.8"/>
<line x1="41.5" y1="170.75" x2="44.0" y2="170.75" stroke="#595959" stroke-width="0.8"/>
<line x1="41.5" y1="166.97" x2="44.0" y2="166.97" stroke="#595959" stroke-width="0.8"/>
<line x1="41.5" y1="163.19" x2="44.0" y2="163.19" stroke="#595959" stroke-width="0.8"/>
<line x1="38.5" y1="159.42" x2="44.5" y2="159.42" stroke="#595959" stroke-width="1"/>
<text x="33.0" y="162.72" class="t" text-anchor="end" font-size="10" fill="#222">0.2</text>
<line x1="41.5" y1="155.64" x2="44.0" y2="155.64" stroke="#595959" stroke-width="0.8"/>
<line x1="41.5" y1="151.86" x2="44.0" y2="151.86" stroke="#595959" stroke-width="0.8"/>
<line x1="41.5" y1="148.08" x2="44.0" y2="148.08" stroke="#595959" stroke-width="0.8"/>
<line x1="41.5" y1="144.30" x2="44.0" y2="144.30" stroke="#595959" stroke-width="0.8"/>
<line x1="38.5" y1="140.53" x2="44.5" y2="140.53" stroke="#595959" stroke-width="1"/>
<text x="33.0" y="143.83" class="t" text-anchor="end" font-size="10" fill="#222">0.3</text>
<line x1="41.5" y1="136.75" x2="44.0" y2="136.75" stroke="#595959" stroke-width="0.8"/>
<line x1="41.5" y1="132.97" x2="44.0" y2="132.97" stroke="#595959" stroke-width="0.8"/>
<line x1="41.5" y1="129.19" x2="44.0" y2="129.19" stroke="#595959" stroke-width="0.8"/>
<line x1="41.5" y1="125.41" x2="44.0" y2="125.41" stroke="#595959" stroke-width="0.8"/>
<line x1="38.5" y1="121.64" x2="44.5" y2="121.64" stroke="#595959" stroke-width="1"/>
<text x="33.0" y="124.94" class="t" text-anchor="end" font-size="10" fill="#222">0.4</text>
<line x1="41.5" y1="117.86" x2="44.0" y2="117.86" stroke="#595959" stroke-width="0.8"/>
<line x1="41.5" y1="114.08" x2="44.0" y2="114.08" stroke="#595959" stroke-width="0.8"/>
<line x1="41.5" y1="110.30" x2="44.0" y2="110.30" stroke="#595959" stroke-width="0.8"/>
<line x1="41.5" y1="106.52" x2="44.0" y2="106.52" stroke="#595959" stroke-width="0.8"/>
<line x1="38.5" y1="102.75" x2="44.5" y2="102.75" stroke="#595959" stroke-width="1"/>
<text x="33.0" y="106.05" class="t" text-anchor="end" font-size="10" fill="#222">0.5</text>
<line x1="41.5" y1="98.97" x2="44.0" y2="98.97" stroke="#595959" stroke-width="0.8"/>
<line x1="41.5" y1="95.19" x2="44.0" y2="95.19" stroke="#595959" stroke-width="0.8"/>
<line x1="41.5" y1="91.41" x2="44.0" y2="91.41" stroke="#595959" stroke-width="0.8"/>
<line x1="41.5" y1="87.63" x2="44.0" y2="87.63" stroke="#595959" stroke-width="0.8"/>
<line x1="38.5" y1="83.86" x2="44.5" y2="83.86" stroke="#595959" stroke-width="1"/>
<text x="33.0" y="87.16" class="t" text-anchor="end" font-size="10" fill="#222">0.6</text>
<line x1="41.5" y1="80.08" x2="44.0" y2="80.08" stroke="#595959" stroke-width="0.8"/>
<line x1="41.5" y1="76.30" x2="44.0" y2="76.30" stroke="#595959" stroke-width="0.8"/>
<line x1="41.5" y1="72.52" x2="44.0" y2="72.52" stroke="#595959" stroke-width="0.8"/>
<line x1="41.5" y1="68.74" x2="44.0" y2="68.74" stroke="#595959" stroke-width="0.8"/>
<line x1="38.5" y1="64.97" x2="44.5" y2="64.97" stroke="#595959" stroke-width="1"/>
<text x="33.0" y="68.27" class="t" text-anchor="end" font-size="10" fill="#222">0.7</text>
<line x1="41.5" y1="61.19" x2="44.0" y2="61.19" stroke="#595959" stroke-width="0.8"/>
<line x1="41.5" y1="57.41" x2="44.0" y2="57.41" stroke="#595959" stroke-width="0.8"/>
<line x1="41.5" y1="53.63" x2="44.0" y2="53.63" stroke="#595959" stroke-width="0.8"/>
<line x1="41.5" y1="49.85" x2="44.0" y2="49.85" stroke="#595959" stroke-width="0.8"/>
<line x1="38.5" y1="46.08" x2="44.5" y2="46.08" stroke="#595959" stroke-width="1"/>
<text x="33.0" y="49.38" class="t" text-anchor="end" font-size="10" fill="#222">0.8</text>
<line x1="41.5" y1="42.30" x2="44.0" y2="42.30" stroke="#595959" stroke-width="0.8"/>
<line x1="41.5" y1="38.52" x2="44.0" y2="38.52" stroke="#595959" stroke-width="0.8"/>
<line x1="41.5" y1="34.74" x2="44.0" y2="34.74" stroke="#595959" stroke-width="0.8"/>
<line x1="41.5" y1="30.96" x2="44.0" y2="30.96" stroke="#595959" stroke-width="0.8"/>
<line x1="38.5" y1="27.18" x2="44.5" y2="27.18" stroke="#595959" stroke-width="1"/>
<text x="33.0" y="30.49" class="t" text-anchor="end" font-size="10" fill="#222">0.9</text>
<line x1="41.5" y1="23.41" x2="44.0" y2="23.41" stroke="#595959" stroke-width="0.8"/>
<line x1="41.5" y1="19.63" x2="44.0" y2="19.63" stroke="#595959" stroke-width="0.8"/>
<line x1="41.5" y1="15.85" x2="44.0" y2="15.85" stroke="#595959" stroke-width="0.8"/>
<line x1="41.5" y1="12.07" x2="44.0" y2="12.07" stroke="#595959" stroke-width="0.8"/>
<line x1="38.5" y1="8.30" x2="44.5" y2="8.30" stroke="#595959" stroke-width="1"/>
<text x="33.0" y="11.60" class="t" text-anchor="end" font-size="10" fill="#222">1</text>
<line x1="41.5" y1="196.2" x2="41.5" y2="200.7" stroke="#595959" stroke-width="1"/>
<text x="41.5" y="212.5" class="t" text-anchor="middle" font-size="10" fill="#222">0</text>
<line x1="55.97" y1="197.2" x2="55.97" y2="194.7" stroke="#595959" stroke-width="0.8"/>
<line x1="70.44" y1="197.2" x2="70.44" y2="194.7" stroke="#595959" stroke-width="0.8"/>
<line x1="84.92" y1="197.2" x2="84.92" y2="194.7" stroke="#595959" stroke-width="0.8"/>
<line x1="99.39" y1="197.2" x2="99.39" y2="194.7" stroke="#595959" stroke-width="0.8"/>
<line x1="113.86" y1="196.2" x2="113.86" y2="200.7" stroke="#595959" stroke-width="1"/>
<text x="113.86" y="212.5" class="t" text-anchor="middle" font-size="10" fill="#222">0.1</text>
<line x1="128.34" y1="197.2" x2="128.34" y2="194.7" stroke="#595959" stroke-width="0.8"/>
<line x1="142.81" y1="197.2" x2="142.81" y2="194.7" stroke="#595959" stroke-width="0.8"/>
<line x1="157.28" y1="197.2" x2="157.28" y2="194.7" stroke="#595959" stroke-width="0.8"/>
<line x1="171.76" y1="197.2" x2="171.76" y2="194.7" stroke="#595959" stroke-width="0.8"/>
<line x1="186.23" y1="196.2" x2="186.23" y2="200.7" stroke="#595959" stroke-width="1"/>
<text x="186.23" y="212.5" class="t" text-anchor="middle" font-size="10" fill="#222">0.2</text>
<line x1="200.70" y1="197.2" x2="200.70" y2="194.7" stroke="#595959" stroke-width="0.8"/>
<line x1="215.18" y1="197.2" x2="215.18" y2="194.7" stroke="#595959" stroke-width="0.8"/>
<line x1="229.65" y1="197.2" x2="229.65" y2="194.7" stroke="#595959" stroke-width="0.8"/>
<line x1="244.12" y1="197.2" x2="244.12" y2="194.7" stroke="#595959" stroke-width="0.8"/>
<line x1="258.6" y1="196.2" x2="258.6" y2="200.7" stroke="#595959" stroke-width="1"/>
<text x="258.6" y="212.5" class="t" text-anchor="middle" font-size="10" fill="#222">0.3</text>
<text x="133" y="23.3" font-size="12" textLength="121" lengthAdjust="spacingAndGlyphs" fill="#111">Taitel and Dukler (1976)</text>
<text x="214.4" y="128.5" font-size="12" textLength="28.4" lengthAdjust="spacingAndGlyphs" fill="#111">+20%</text>
<text x="227.6" y="171.2" font-size="12" textLength="27.8" lengthAdjust="spacingAndGlyphs" fill="#111">&#8722;20%</text>
<text x="54.2" y="228.8" font-size="12.3" textLength="191.2" lengthAdjust="spacingAndGlyphs" fill="#111">Liquid Holdup Experimental Measurement</text>
<text transform="translate(15.8,175) rotate(-90)" x="0" y="0" font-size="12.3" textLength="147" lengthAdjust="spacingAndGlyphs" fill="#111">Liquid Holdup Model Prediction</text>
<text x="132" y="258.5" text-anchor="middle" font-size="11.5" font-weight="bold" fill="#111">(c)</text>
</g>
<g id="pd">
<line x1="322.9" y1="197.0" x2="539.5" y2="8.30" stroke="#111" stroke-width="1.3"/>
<line x1="322.9" y1="197.0" x2="503.4" y2="8.30" stroke="#2a2a2a" stroke-width="0.95" stroke-dasharray="2.8,1.9"/>
<line x1="322.9" y1="197.0" x2="539.5" y2="46.03" stroke="#2a2a2a" stroke-width="0.95" stroke-dasharray="2.8,1.9"/>
<rect x="354.3" y="104.3" width="5" height="5" fill="none" stroke="#2f7ad0" stroke-width="1.2"/>
<rect x="350.5" y="106.7" width="5" height="5" fill="none" stroke="#2f7ad0" stroke-width="1.2"/>
<rect x="345.8" y="110.9" width="5" height="5" fill="none" stroke="#2f7ad0" stroke-width="1.2"/>
<rect x="344.4" y="113.7" width="5" height="5" fill="none" stroke="#2f7ad0" stroke-width="1.2"/>
<rect x="342.0" y="115.1" width="5" height="5" fill="none" stroke="#2f7ad0" stroke-width="1.2"/>
<rect x="339.2" y="118.4" width="5" height="5" fill="none" stroke="#2f7ad0" stroke-width="1.2"/>
<rect x="336.4" y="124.6" width="5" height="5" fill="none" stroke="#2f7ad0" stroke-width="1.2"/>
<rect x="334.0" y="135.0" width="5" height="5" fill="none" stroke="#2f7ad0" stroke-width="1.2"/>
<rect x="333.0" y="136.5" width="5" height="5" fill="none" stroke="#2f7ad0" stroke-width="1.2"/>
<rect x="352.0" y="105.5" width="5" height="5" fill="none" stroke="#2f7ad0" stroke-width="1.2"/>
<rect x="347.5" y="108.5" width="5" height="5" fill="none" stroke="#2f7ad0" stroke-width="1.2"/>
<rect x="336.5" y="121.5" width="5" height="5" fill="none" stroke="#2f7ad0" stroke-width="1.2"/>
<rect x="334.5" y="128.5" width="5" height="5" fill="none" stroke="#2f7ad0" stroke-width="1.2"/>
<rect x="337.5" y="116.5" width="5" height="5" fill="none" stroke="#2f7ad0" stroke-width="1.2"/>
<rect x="349.5" y="103.5" width="5" height="5" fill="none" stroke="#2f7ad0" stroke-width="1.2"/>
<rect x="397.4" y="116.7" width="5" height="5" fill="none" stroke="#2f7ad0" stroke-width="1.2"/>
<rect x="392.7" y="117.7" width="5" height="5" fill="none" stroke="#2f7ad0" stroke-width="1.2"/>
<rect x="411.5" y="110.1" width="5" height="5" fill="none" stroke="#2f7ad0" stroke-width="1.2"/>
<rect x="395.5" y="133.7" width="5" height="5" fill="none" stroke="#2f7ad0" stroke-width="1.2"/>
<rect x="404.0" y="130.9" width="5" height="5" fill="none" stroke="#2f7ad0" stroke-width="1.2"/>
<rect x="423.4" y="107.0" width="5" height="5" fill="none" stroke="#2f7ad0" stroke-width="1.2"/>
<rect x="413.2" y="110.4" width="5" height="5" fill="none" stroke="#2f7ad0" stroke-width="1.2"/>
<rect x="408.6" y="127.4" width="5" height="5" fill="none" stroke="#2f7ad0" stroke-width="1.2"/>
<rect x="393.6" y="138.2" width="5" height="5" fill="none" stroke="#2f7ad0" stroke-width="1.2"/>
<rect x="395.5" y="134.4" width="5" height="5" fill="none" stroke="#2f7ad0" stroke-width="1.2"/>
<rect x="363.3" y="140.8" width="5" height="5" fill="none" stroke="#2f7ad0" stroke-width="1.2"/>
<rect x="373.6" y="138.0" width="5" height="5" fill="none" stroke="#2f7ad0" stroke-width="1.2"/>
<rect x="391.5" y="138.0" width="5" height="5" fill="none" stroke="#2f7ad0" stroke-width="1.2"/>
<rect x="343.4" y="118.2" width="5" height="5" fill="none" stroke="#2f7ad0" stroke-width="1.2"/>
<rect x="336.0" y="125.1" width="5" height="5" fill="none" stroke="#2f7ad0" stroke-width="1.2"/>
<rect x="332.7" y="135.0" width="5" height="5" fill="none" stroke="#2f7ad0" stroke-width="1.2"/>
<rect x="329.4" y="143.6" width="5" height="5" fill="none" stroke="#2f7ad0" stroke-width="1.2"/>
<rect x="330.5" y="127.5" width="5" height="5" fill="none" stroke="#2f7ad0" stroke-width="1.2"/>
<rect x="341.5" y="109.5" width="5" height="5" fill="none" stroke="#2f7ad0" stroke-width="1.2"/>
<rect x="345.5" y="103.5" width="5" height="5" fill="none" stroke="#2f7ad0" stroke-width="1.2"/>
<rect x="403.5" y="103.1" width="5" height="5" fill="none" stroke="#55bb40" stroke-width="1.2"/>
<rect x="382.8" y="105.0" width="5" height="5" fill="none" stroke="#55bb40" stroke-width="1.2"/>
<rect x="401.2" y="122.9" width="5" height="5" fill="none" stroke="#55bb40" stroke-width="1.2"/>
<rect x="385.1" y="133.7" width="5" height="5" fill="none" stroke="#55bb40" stroke-width="1.2"/>
<rect x="474.4" y="108.1" width="5" height="5" fill="none" stroke="#55bb40" stroke-width="1.2"/>
<rect x="426.8" y="111.1" width="5" height="5" fill="none" stroke="#55bb40" stroke-width="1.2"/>
<rect x="430.2" y="119.5" width="5" height="5" fill="none" stroke="#55bb40" stroke-width="1.2"/>
<rect x="428.4" y="127.4" width="5" height="5" fill="none" stroke="#55bb40" stroke-width="1.2"/>
<rect x="416.1" y="130.3" width="5" height="5" fill="none" stroke="#55bb40" stroke-width="1.2"/>
<rect x="416.1" y="162.5" width="5" height="5" fill="none" stroke="#55bb40" stroke-width="1.2"/>
<rect x="407.5" y="164.8" width="5" height="5" fill="none" stroke="#55bb40" stroke-width="1.2"/>
<rect x="426.3" y="184.1" width="5" height="5" fill="none" stroke="#55bb40" stroke-width="1.2"/>
<rect x="408.0" y="188.2" width="5" height="5" fill="none" stroke="#55bb40" stroke-width="1.2"/>
<rect x="327.9" y="159.0" width="5" height="5" fill="none" stroke="#55bb40" stroke-width="1.2"/>
<rect x="356.2" y="147.7" width="5" height="5" fill="none" stroke="#55bb40" stroke-width="1.2"/>
<rect x="356.7" y="151.0" width="5" height="5" fill="none" stroke="#55bb40" stroke-width="1.2"/>
<rect x="384.2" y="143.8" width="5" height="5" fill="none" stroke="#55bb40" stroke-width="1.2"/>
<rect x="385.1" y="147.1" width="5" height="5" fill="none" stroke="#55bb40" stroke-width="1.2"/>
<rect x="379.5" y="151.4" width="5" height="5" fill="none" stroke="#55bb40" stroke-width="1.2"/>
<rect x="371.9" y="144.8" width="5" height="5" fill="none" stroke="#55bb40" stroke-width="1.2"/>
<rect x="406.8" y="165.0" width="5" height="5" fill="none" stroke="#55bb40" stroke-width="1.2"/>
<rect x="363.5" y="141.9" width="5" height="5" fill="none" stroke="#55bb40" stroke-width="1.2"/>
<rect x="357.1" y="146.5" width="5" height="5" fill="none" stroke="#55bb40" stroke-width="1.2"/>
<rect x="357.1" y="150.2" width="5" height="5" fill="none" stroke="#55bb40" stroke-width="1.2"/>
<rect x="370.8" y="143.6" width="5" height="5" fill="none" stroke="#55bb40" stroke-width="1.2"/>
<rect x="384.5" y="141.7" width="5" height="5" fill="none" stroke="#55bb40" stroke-width="1.2"/>
<rect x="385.9" y="147.4" width="5" height="5" fill="none" stroke="#55bb40" stroke-width="1.2"/>
<rect x="379.3" y="151.2" width="5" height="5" fill="none" stroke="#55bb40" stroke-width="1.2"/>
<rect x="384.0" y="127.6" width="5" height="5" fill="none" stroke="#55bb40" stroke-width="1.2"/>
<rect x="384.0" y="133.3" width="5" height="5" fill="none" stroke="#55bb40" stroke-width="1.2"/>
<rect x="325.5" y="161.5" width="5" height="5" fill="none" stroke="#55bb40" stroke-width="1.2"/>
<rect x="329.5" y="155.5" width="5" height="5" fill="none" stroke="#55bb40" stroke-width="1.2"/>
<path d="M322.9 180L330 170L338 160L346 148L352 140L358 135L366 132L374 131L380 131.5L380 136.5L372 138L362 141L357 147L354 158L349 168L345 172L360 165L375 160L370 170L355 180L340 190L333 194L326 197L322.9 197Z" fill="#ff0000"/>
<path d="M382.9 169.1L386.5 172.7L382.9 176.29L379.29 172.7Z" fill="#ff0000"/>
<path d="M376.3 172.9L379.90 176.5L376.3 180.1L372.7 176.5Z" fill="#ff0000"/>
<path d="M369.7 173.9L373.3 177.5L369.7 181.1L366.09 177.5Z" fill="#ff0000"/>
<path d="M365.9 177.6L369.5 181.2L365.9 184.79L362.29 181.2Z" fill="#ff0000"/>
<path d="M360 176.4L363.6 180L360 183.6L356.4 180Z" fill="#ff0000"/>
<path d="M356 179.4L359.6 183L356 186.6L352.4 183Z" fill="#ff0000"/>
<path d="M352 182.4L355.6 186L352 189.6L348.4 186Z" fill="#ff0000"/>
<path d="M347 185.4L350.6 189L347 192.6L343.4 189Z" fill="#ff0000"/>
<path d="M342 188.4L345.6 192L342 195.6L338.4 192Z" fill="#ff0000"/>
<path d="M337 191.4L340.6 195L337 198.6L333.4 195Z" fill="#ff0000"/>
<path d="M364 172.4L367.6 176L364 179.6L360.4 176Z" fill="#ff0000"/>
<path d="M358 175.4L361.6 179L358 182.6L354.4 179Z" fill="#ff0000"/>
<path d="M372 168.4L375.6 172L372 175.6L368.4 172Z" fill="#ff0000"/>
<path d="M385 164.4L388.6 168L385 171.6L381.4 168Z" fill="#ff0000"/>
<path d="M340 168.4L343.6 172L340 175.6L336.4 172Z" fill="#ff0000"/>
<path d="M343 164.4L346.6 168L343 171.6L339.4 168Z" fill="#ff0000"/>
<path d="M346 162.4L349.6 166L346 169.6L342.4 166Z" fill="#ff0000"/>
<path d="M333 168.4L336.6 172L333 175.6L329.4 172Z" fill="#ff0000"/>
<path d="M330 170.4L333.6 174L330 177.6L326.4 174Z" fill="#ff0000"/>
<path d="M327 174.4L330.6 178L327 181.6L323.4 178Z" fill="#ff0000"/>
<path d="M324 178.4L327.6 182L324 185.6L320.4 182Z" fill="#ff0000"/>
<path d="M345 189.4L348.6 193L345 196.6L341.4 193Z" fill="#ff0000"/>
<path d="M350 186.4L353.6 190L350 193.6L346.4 190Z" fill="#ff0000"/>
<path d="M355 183.4L358.6 187L355 190.6L351.4 187Z" fill="#ff0000"/>
<path d="M361 180.4L364.6 184L361 187.6L357.4 184Z" fill="#ff0000"/>
<path d="M367 177.4L370.6 181L367 184.6L363.4 181Z" fill="#ff0000"/>
<path d="M373 174.4L376.6 178L373 181.6L369.4 178Z" fill="#ff0000"/>
<path d="M379 171.4L382.6 175L379 178.6L375.4 175Z" fill="#ff0000"/>
<path d="M384 168.4L387.6 172L384 175.6L380.4 172Z" fill="#ff0000"/>
<path d="M338.0 189.9L341.6 193.5L338.0 197.1L334.4 193.5Z" fill="#ff0000"/>
<path d="M340.5 192.9L344.1 196.5L340.5 200.1L336.9 196.5Z" fill="#ff0000"/>
<path d="M342.09 187.94L345.69 191.54L342.09 195.14L338.49 191.54Z" fill="#ff0000"/>
<path d="M346.18 185.99L349.78 189.59L346.18 193.19L342.58 189.59Z" fill="#ff0000"/>
<path d="M348.68 188.99L352.28 192.59L348.68 196.19L345.08 192.59Z" fill="#ff0000"/>
<path d="M350.27 184.03L353.87 187.63L350.27 191.23L346.67 187.63Z" fill="#ff0000"/>
<path d="M354.36 182.08L357.96 185.68L354.36 189.28L350.76 185.68Z" fill="#ff0000"/>
<path d="M356.86 185.08L360.46 188.68L356.86 192.28L353.26 188.68Z" fill="#ff0000"/>
<path d="M358.45 180.12L362.05 183.72L358.45 187.32L354.85 183.72Z" fill="#ff0000"/>
<path d="M362.54 178.17L366.14 181.77L362.54 185.37L358.94 181.77Z" fill="#ff0000"/>
<path d="M365.04 181.17L368.64 184.77L365.04 188.37L361.44 184.77Z" fill="#ff0000"/>
<path d="M366.63 176.21L370.23 179.81L366.63 183.41L363.03 179.81Z" fill="#ff0000"/>
<path d="M370.72 174.26L374.32 177.86L370.72 181.46L367.12 177.86Z" fill="#ff0000"/>
<path d="M373.22 177.26L376.82 180.86L373.22 184.46L369.62 180.86Z" fill="#ff0000"/>
<path d="M374.81 172.30L378.41 175.90L374.81 179.50L371.21 175.90Z" fill="#ff0000"/>
<path d="M378.90 170.35L382.50 173.95L378.90 177.55L375.30 173.95Z" fill="#ff0000"/>
<path d="M381.40 173.35L385.00 176.95L381.40 180.55L377.80 176.95Z" fill="#ff0000"/>
<path d="M383.0 168.4L386.6 172.0L383.0 175.6L379.4 172.0Z" fill="#ff0000"/>
<path d="M347.4 163.6L350.5 166.7L347.4 169.79L344.29 166.7Z" fill="#5ea8e6" stroke="#1262b5" stroke-width="1.1"/>
<path d="M352 161.4L355.1 164.5L352 167.6L348.9 164.5Z" fill="#5ea8e6" stroke="#1262b5" stroke-width="1.1"/>
<path d="M356 159.9L359.1 163L356 166.1L352.9 163Z" fill="#5ea8e6" stroke="#1262b5" stroke-width="1.1"/>
<path d="M360 157.9L363.1 161L360 164.1L356.9 161Z" fill="#5ea8e6" stroke="#1262b5" stroke-width="1.1"/>
<path d="M364 155.9L367.1 159L364 162.1L360.9 159Z" fill="#5ea8e6" stroke="#1262b5" stroke-width="1.1"/>
<path d="M368 154.4L371.1 157.5L368 160.6L364.9 157.5Z" fill="#5ea8e6" stroke="#1262b5" stroke-width="1.1"/>
<path d="M351 165.9L354.1 169L351 172.1L347.9 169Z" fill="#5ea8e6" stroke="#1262b5" stroke-width="1.1"/>
<path d="M355 163.9L358.1 167L355 170.1L351.9 167Z" fill="#5ea8e6" stroke="#1262b5" stroke-width="1.1"/>
<path d="M359 162.9L362.1 166L359 169.1L355.9 166Z" fill="#5ea8e6" stroke="#1262b5" stroke-width="1.1"/>
<path d="M363 161.4L366.1 164.5L363 167.6L359.9 164.5Z" fill="#5ea8e6" stroke="#1262b5" stroke-width="1.1"/>
<path d="M370.7 147.0L373.8 150.1L370.7 153.2L367.59 150.1Z" fill="#5ea8e6" stroke="#1262b5" stroke-width="1.1"/>
<path d="M375.4 149.4L378.5 152.5L375.4 155.6L372.29 152.5Z" fill="#5ea8e6" stroke="#1262b5" stroke-width="1.1"/>
<path d="M366.9 151.70L370.0 154.8L366.9 157.9L363.79 154.8Z" fill="#5ea8e6" stroke="#1262b5" stroke-width="1.1"/>
<path d="M372.5 152.70L375.6 155.8L372.5 158.9L369.4 155.8Z" fill="#5ea8e6" stroke="#1262b5" stroke-width="1.1"/>
<path d="M367.8 155.5L370.90 158.6L367.8 161.7L364.7 158.6Z" fill="#5ea8e6" stroke="#1262b5" stroke-width="1.1"/>
<path d="M377.3 156.4L380.40 159.5L377.3 162.6L374.2 159.5Z" fill="#5ea8e6" stroke="#1262b5" stroke-width="1.1"/>
<path d="M382 157.4L385.1 160.5L382 163.6L378.9 160.5Z" fill="#5ea8e6" stroke="#1262b5" stroke-width="1.1"/>
<path d="M373.5 160.20L376.6 163.3L373.5 166.4L370.4 163.3Z" fill="#5ea8e6" stroke="#1262b5" stroke-width="1.1"/>
<path d="M378.2 161.1L381.3 164.2L378.2 167.29L375.09 164.2Z" fill="#5ea8e6" stroke="#1262b5" stroke-width="1.1"/>
<path d="M366.9 160.20L370.0 163.3L366.9 166.4L363.79 163.3Z" fill="#5ea8e6" stroke="#1262b5" stroke-width="1.1"/>
<path d="M368.8 164.9L371.90 168L368.8 171.1L365.7 168Z" fill="#5ea8e6" stroke="#1262b5" stroke-width="1.1"/>
<path d="M379.2 164.9L382.3 168L379.2 171.1L376.09 168Z" fill="#5ea8e6" stroke="#1262b5" stroke-width="1.1"/>
<path d="M365.9 169.6L369.0 172.7L365.9 175.79L362.79 172.7Z" fill="#5ea8e6" stroke="#1262b5" stroke-width="1.1"/>
<path d="M370.7 169.6L373.8 172.7L370.7 175.79L367.59 172.7Z" fill="#5ea8e6" stroke="#1262b5" stroke-width="1.1"/>
<path d="M370.5 149.6L373.6 152.7L370.5 155.79L367.4 152.7Z" fill="#5ea8e6" stroke="#1262b5" stroke-width="1.1"/>
<path d="M375.2 148.70L378.3 151.8L375.2 154.9L372.09 151.8Z" fill="#5ea8e6" stroke="#1262b5" stroke-width="1.1"/>
<path d="M367.6 153.4L370.70 156.5L367.6 159.6L364.5 156.5Z" fill="#5ea8e6" stroke="#1262b5" stroke-width="1.1"/>
<path d="M373.3 153.4L376.40 156.5L373.3 159.6L370.2 156.5Z" fill="#5ea8e6" stroke="#1262b5" stroke-width="1.1"/>
<path d="M378 155.3L381.1 158.4L378 161.5L374.9 158.4Z" fill="#5ea8e6" stroke="#1262b5" stroke-width="1.1"/>
<path d="M362.9 157.20L366.0 160.3L362.9 163.4L359.79 160.3Z" fill="#5ea8e6" stroke="#1262b5" stroke-width="1.1"/>
<path d="M369.5 158.1L372.6 161.2L369.5 164.29L366.4 161.2Z" fill="#5ea8e6" stroke="#1262b5" stroke-width="1.1"/>
<path d="M357.3 159.1L360.40 162.2L357.3 165.29L354.2 162.2Z" fill="#5ea8e6" stroke="#1262b5" stroke-width="1.1"/>
<path d="M382.7 158.1L385.8 161.2L382.7 164.29L379.59 161.2Z" fill="#5ea8e6" stroke="#1262b5" stroke-width="1.1"/>
<path d="M353.5 160.0L356.6 163.1L353.5 166.2L350.4 163.1Z" fill="#5ea8e6" stroke="#1262b5" stroke-width="1.1"/>
<path d="M346 172.9L349.1 176L346 179.1L342.9 176Z" fill="#5ea8e6" stroke="#1262b5" stroke-width="1.1"/>
<path d="M350 176.9L353.1 180L350 183.1L346.9 180Z" fill="#5ea8e6" stroke="#1262b5" stroke-width="1.1"/>
<path d="M356 172.9L359.1 176L356 179.1L352.9 176Z" fill="#5ea8e6" stroke="#1262b5" stroke-width="1.1"/>
<path d="M360 170.9L363.1 174L360 177.1L356.9 174Z" fill="#5ea8e6" stroke="#1262b5" stroke-width="1.1"/>
<path d="M362 165.9L365.1 169L362 172.1L358.9 169Z" fill="#5ea8e6" stroke="#1262b5" stroke-width="1.1"/>
<path d="M324 190.9L327.1 194L324 197.1L320.9 194Z" fill="#5ea8e6" stroke="#1262b5" stroke-width="1.1"/>
<path d="M328 191.9L331.1 195L328 198.1L324.9 195Z" fill="#5ea8e6" stroke="#1262b5" stroke-width="1.1"/>
<path d="M333 190.9L336.1 194L333 197.1L329.9 194Z" fill="#5ea8e6" stroke="#1262b5" stroke-width="1.1"/>
<circle cx="368.1" cy="117.6" r="2.5" fill="#62c83a" stroke="#2b6e1c" stroke-width="1.1"/>
<circle cx="365.3" cy="123.3" r="2.5" fill="#62c83a" stroke="#2b6e1c" stroke-width="1.1"/>
<circle cx="406" cy="94.7" r="2.5" fill="#62c83a" stroke="#2b6e1c" stroke-width="1.1"/>
<circle cx="400.8" cy="98" r="2.5" fill="#62c83a" stroke="#2b6e1c" stroke-width="1.1"/>
<circle cx="387.2" cy="104.2" r="2.5" fill="#62c83a" stroke="#2b6e1c" stroke-width="1.1"/>
<circle cx="390.5" cy="103.2" r="2.5" fill="#62c83a" stroke="#2b6e1c" stroke-width="1.1"/>
<circle cx="392.4" cy="105.6" r="2.5" fill="#62c83a" stroke="#2b6e1c" stroke-width="1.1"/>
<circle cx="382" cy="111.2" r="2.5" fill="#62c83a" stroke="#2b6e1c" stroke-width="1.1"/>
<circle cx="375.4" cy="112.2" r="2.5" fill="#62c83a" stroke="#2b6e1c" stroke-width="1.1"/>
<circle cx="371.6" cy="113.6" r="2.5" fill="#62c83a" stroke="#2b6e1c" stroke-width="1.1"/>
<circle cx="368.8" cy="118.8" r="2.5" fill="#62c83a" stroke="#2b6e1c" stroke-width="1.1"/>
<circle cx="372.5" cy="118.3" r="2.5" fill="#62c83a" stroke="#2b6e1c" stroke-width="1.1"/>
<circle cx="432.2" cy="88.4" r="2.5" fill="#62c83a" stroke="#2b6e1c" stroke-width="1.1"/>
<circle cx="368.6" cy="118.8" r="2.5" fill="#62c83a" stroke="#2b6e1c" stroke-width="1.1"/>
<circle cx="372.4" cy="117.8" r="2.5" fill="#62c83a" stroke="#2b6e1c" stroke-width="1.1"/>
<path d="M345 138L352 130L360 124L370 119L382 115L390 115L384 122L372 126L360 130L350 138L344 146Z" fill="#f07a24"/>
<circle cx="396.1" cy="113.1" r="2.6" fill="#f2741c" stroke="#c24c0a" stroke-width="0.9"/>
<circle cx="392.4" cy="116.9" r="2.6" fill="#f2741c" stroke="#c24c0a" stroke-width="0.9"/>
<circle cx="383.9" cy="116.4" r="2.6" fill="#f2741c" stroke="#c24c0a" stroke-width="0.9"/>
<circle cx="385.3" cy="119.7" r="2.6" fill="#f2741c" stroke="#c24c0a" stroke-width="0.9"/>
<circle cx="379.2" cy="120.2" r="2.6" fill="#f2741c" stroke="#c24c0a" stroke-width="0.9"/>
<circle cx="372.5" cy="122.5" r="2.6" fill="#f2741c" stroke="#c24c0a" stroke-width="0.9"/>
<circle cx="383.9" cy="123.5" r="2.6" fill="#f2741c" stroke="#c24c0a" stroke-width="0.9"/>
<circle cx="377.3" cy="125.4" r="2.6" fill="#f2741c" stroke="#c24c0a" stroke-width="0.9"/>
<circle cx="367.4" cy="124.9" r="2.6" fill="#f2741c" stroke="#c24c0a" stroke-width="0.9"/>
<circle cx="368.8" cy="128.7" r="2.6" fill="#f2741c" stroke="#c24c0a" stroke-width="0.9"/>
<circle cx="374.4" cy="128.7" r="2.6" fill="#f2741c" stroke="#c24c0a" stroke-width="0.9"/>
<circle cx="409.3" cy="113.6" r="2.6" fill="#f2741c" stroke="#c24c0a" stroke-width="0.9"/>
<circle cx="381.5" cy="139.1" r="2.6" fill="#f2741c" stroke="#c24c0a" stroke-width="0.9"/>
<circle cx="439" cy="103.8" r="2.6" fill="#f2741c" stroke="#c24c0a" stroke-width="0.9"/>
<circle cx="418.6" cy="109.5" r="2.6" fill="#f2741c" stroke="#c24c0a" stroke-width="0.9"/>
<circle cx="419.1" cy="116.7" r="2.6" fill="#f2741c" stroke="#c24c0a" stroke-width="0.9"/>
<circle cx="410" cy="113.6" r="2.6" fill="#f2741c" stroke="#c24c0a" stroke-width="0.9"/>
<circle cx="382" cy="140.2" r="2.6" fill="#f2741c" stroke="#c24c0a" stroke-width="0.9"/>
<circle cx="374.4" cy="136" r="2.6" fill="#f2741c" stroke="#c24c0a" stroke-width="0.9"/>
<circle cx="358.2" cy="129.2" r="2.6" fill="#f2741c" stroke="#c24c0a" stroke-width="0.9"/>
<circle cx="362.9" cy="126.3" r="2.6" fill="#f2741c" stroke="#c24c0a" stroke-width="0.9"/>
<circle cx="367.6" cy="125.4" r="2.6" fill="#f2741c" stroke="#c24c0a" stroke-width="0.9"/>
<circle cx="372.4" cy="122.5" r="2.6" fill="#f2741c" stroke="#c24c0a" stroke-width="0.9"/>
<circle cx="378" cy="120.7" r="2.6" fill="#f2741c" stroke="#c24c0a" stroke-width="0.9"/>
<circle cx="383.7" cy="117.8" r="2.6" fill="#f2741c" stroke="#c24c0a" stroke-width="0.9"/>
<circle cx="385.6" cy="123.5" r="2.6" fill="#f2741c" stroke="#c24c0a" stroke-width="0.9"/>
<circle cx="369.5" cy="129.2" r="2.6" fill="#f2741c" stroke="#c24c0a" stroke-width="0.9"/>
<circle cx="375.2" cy="126.3" r="2.6" fill="#f2741c" stroke="#c24c0a" stroke-width="0.9"/>
<circle cx="352.5" cy="133.9" r="2.6" fill="#f2741c" stroke="#c24c0a" stroke-width="0.9"/>
<circle cx="380.8" cy="140" r="2.6" fill="#f2741c" stroke="#c24c0a" stroke-width="0.9"/>
<circle cx="392.2" cy="116.9" r="2.6" fill="#f2741c" stroke="#c24c0a" stroke-width="0.9"/>
<circle cx="390" cy="119" r="2.6" fill="#f2741c" stroke="#c24c0a" stroke-width="0.9"/>
<circle cx="356" cy="132" r="2.6" fill="#f2741c" stroke="#c24c0a" stroke-width="0.9"/>
<circle cx="361" cy="131" r="2.6" fill="#f2741c" stroke="#c24c0a" stroke-width="0.9"/>
<circle cx="365" cy="128" r="2.6" fill="#f2741c" stroke="#c24c0a" stroke-width="0.9"/>
<circle cx="350" cy="137" r="2.6" fill="#f2741c" stroke="#c24c0a" stroke-width="0.9"/>
<circle cx="347" cy="140" r="2.6" fill="#f2741c" stroke="#c24c0a" stroke-width="0.9"/>
<circle cx="355" cy="127" r="2.6" fill="#f2741c" stroke="#c24c0a" stroke-width="0.9"/>
<circle cx="363" cy="122" r="2.6" fill="#f2741c" stroke="#c24c0a" stroke-width="0.9"/>
<circle cx="388" cy="113" r="2.6" fill="#f2741c" stroke="#c24c0a" stroke-width="0.9"/>
<circle cx="380" cy="117" r="2.6" fill="#f2741c" stroke="#c24c0a" stroke-width="0.9"/>
<circle cx="341.8" cy="154.7" r="2.6" fill="#f2741c" stroke="#c24c0a" stroke-width="0.9"/>
<circle cx="351.7" cy="134.2" r="2.6" fill="#f2741c" stroke="#c24c0a" stroke-width="0.9"/>
<circle cx="347" cy="148" r="2.6" fill="#f2741c" stroke="#c24c0a" stroke-width="0.9"/>
<circle cx="344" cy="153" r="2.6" fill="#f2741c" stroke="#c24c0a" stroke-width="0.9"/>
<circle cx="349" cy="142" r="2.6" fill="#f2741c" stroke="#c24c0a" stroke-width="0.9"/>
<circle cx="355" cy="137" r="2.6" fill="#f2741c" stroke="#c24c0a" stroke-width="0.9"/>
<circle cx="357.7" cy="110.6" r="2.5" fill="#6a6a6a" stroke="#111" stroke-width="1.2"/>
<circle cx="356.3" cy="114.8" r="2.5" fill="#6a6a6a" stroke="#111" stroke-width="1.2"/>
<circle cx="352.5" cy="119.1" r="2.5" fill="#6a6a6a" stroke="#111" stroke-width="1.2"/>
<circle cx="359.2" cy="121" r="2.5" fill="#6a6a6a" stroke="#111" stroke-width="1.2"/>
<circle cx="357.7" cy="124.2" r="2.5" fill="#6a6a6a" stroke="#111" stroke-width="1.2"/>
<circle cx="343.1" cy="122.8" r="2.5" fill="#6a6a6a" stroke="#111" stroke-width="1.2"/>
<circle cx="341.7" cy="127.5" r="2.5" fill="#6a6a6a" stroke="#111" stroke-width="1.2"/>
<circle cx="350.2" cy="126.1" r="2.5" fill="#6a6a6a" stroke="#111" stroke-width="1.2"/>
<circle cx="349.2" cy="130.4" r="2.5" fill="#6a6a6a" stroke="#111" stroke-width="1.2"/>
<circle cx="353.5" cy="129.9" r="2.5" fill="#6a6a6a" stroke="#111" stroke-width="1.2"/>
<circle cx="334.6" cy="131.8" r="2.5" fill="#6a6a6a" stroke="#111" stroke-width="1.2"/>
<circle cx="345.5" cy="134.2" r="2.5" fill="#6a6a6a" stroke="#111" stroke-width="1.2"/>
<circle cx="340.8" cy="135.6" r="2.5" fill="#6a6a6a" stroke="#111" stroke-width="1.2"/>
<circle cx="344.1" cy="137.5" r="2.5" fill="#6a6a6a" stroke="#111" stroke-width="1.2"/>
<circle cx="335.6" cy="142.6" r="2.5" fill="#6a6a6a" stroke="#111" stroke-width="1.2"/>
<circle cx="341.2" cy="143.1" r="2.5" fill="#6a6a6a" stroke="#111" stroke-width="1.2"/>
<circle cx="334.6" cy="148.8" r="2.5" fill="#6a6a6a" stroke="#111" stroke-width="1.2"/>
<circle cx="338.9" cy="151.1" r="2.5" fill="#6a6a6a" stroke="#111" stroke-width="1.2"/>
<circle cx="329.9" cy="152.5" r="2.5" fill="#6a6a6a" stroke="#111" stroke-width="1.2"/>
<circle cx="335.1" cy="154" r="2.5" fill="#6a6a6a" stroke="#111" stroke-width="1.2"/>
<circle cx="337.5" cy="155.8" r="2.5" fill="#6a6a6a" stroke="#111" stroke-width="1.2"/>
<circle cx="343.1" cy="149.2" r="2.5" fill="#6a6a6a" stroke="#111" stroke-width="1.2"/>
<circle cx="346.9" cy="133.9" r="2.5" fill="#6a6a6a" stroke="#111" stroke-width="1.2"/>
<circle cx="353.5" cy="130.1" r="2.5" fill="#6a6a6a" stroke="#111" stroke-width="1.2"/>
<circle cx="350.7" cy="126.3" r="2.5" fill="#6a6a6a" stroke="#111" stroke-width="1.2"/>
<circle cx="341.8" cy="127.6" r="2.5" fill="#6a6a6a" stroke="#111" stroke-width="1.2"/>
<circle cx="334.5" cy="132.3" r="2.5" fill="#6a6a6a" stroke="#111" stroke-width="1.2"/>
<circle cx="340.5" cy="135.6" r="2.5" fill="#6a6a6a" stroke="#111" stroke-width="1.2"/>
<circle cx="345.1" cy="134.2" r="2.5" fill="#6a6a6a" stroke="#111" stroke-width="1.2"/>
<circle cx="350.4" cy="126.3" r="2.5" fill="#6a6a6a" stroke="#111" stroke-width="1.2"/>
<circle cx="353" cy="130.3" r="2.5" fill="#6a6a6a" stroke="#111" stroke-width="1.2"/>
<circle cx="349.1" cy="130.3" r="2.5" fill="#6a6a6a" stroke="#111" stroke-width="1.2"/>
<circle cx="343.8" cy="137.5" r="2.5" fill="#6a6a6a" stroke="#111" stroke-width="1.2"/>
<circle cx="335.2" cy="142.8" r="2.5" fill="#6a6a6a" stroke="#111" stroke-width="1.2"/>
<circle cx="341.2" cy="143.5" r="2.5" fill="#6a6a6a" stroke="#111" stroke-width="1.2"/>
<circle cx="334.5" cy="148.8" r="2.5" fill="#6a6a6a" stroke="#111" stroke-width="1.2"/>
<circle cx="338.5" cy="151.4" r="2.5" fill="#6a6a6a" stroke="#111" stroke-width="1.2"/>
<circle cx="329.9" cy="152.7" r="2.5" fill="#6a6a6a" stroke="#111" stroke-width="1.2"/>
<circle cx="343.8" cy="150.1" r="2.5" fill="#6a6a6a" stroke="#111" stroke-width="1.2"/>
<circle cx="336.5" cy="156" r="2.5" fill="#6a6a6a" stroke="#111" stroke-width="1.2"/>
<path d="M322.9 188L327 185L331 189L332 194L328 197L322.9 197Z" fill="#8a6508"/>
<path d="M335.1 172.0L338.20 175.1L335.1 178.2L332.0 175.1Z" fill="#ffc400" stroke="#8a6200" stroke-width="1.1"/>
<path d="M340.4 174.3L343.5 177.4L340.4 180.5L337.29 177.4Z" fill="#ffc400" stroke="#8a6200" stroke-width="1.1"/>
<path d="M344.9 170.5L348.0 173.6L344.9 176.7L341.79 173.6Z" fill="#ffc400" stroke="#8a6200" stroke-width="1.1"/>
<path d="M351 168.20L354.1 171.3L351 174.4L347.9 171.3Z" fill="#ffc400" stroke="#8a6200" stroke-width="1.1"/>
<path d="M355.5 168.20L358.6 171.3L355.5 174.4L352.4 171.3Z" fill="#ffc400" stroke="#8a6200" stroke-width="1.1"/>
<path d="M360.6 167.9L363.70 171L360.6 174.1L357.5 171Z" fill="#ffc400" stroke="#8a6200" stroke-width="1.1"/>
<path d="M330.6 175.0L333.70 178.1L330.6 181.2L327.5 178.1Z" fill="#ffc400" stroke="#8a6200" stroke-width="1.1"/>
<path d="M329 178.8L332.1 181.9L329 185.0L325.9 181.9Z" fill="#ffc400" stroke="#8a6200" stroke-width="1.1"/>
<path d="M335.1 179.5L338.20 182.6L335.1 185.7L332.0 182.6Z" fill="#ffc400" stroke="#8a6200" stroke-width="1.1"/>
<path d="M340.4 179.5L343.5 182.6L340.4 185.7L337.29 182.6Z" fill="#ffc400" stroke="#8a6200" stroke-width="1.1"/>
<path d="M346.4 180.3L349.5 183.4L346.4 186.5L343.29 183.4Z" fill="#ffc400" stroke="#8a6200" stroke-width="1.1"/>
<path d="M351 173.5L354.1 176.6L351 179.7L347.9 176.6Z" fill="#ffc400" stroke="#8a6200" stroke-width="1.1"/>
<path d="M336.6 183.3L339.70 186.4L336.6 189.5L333.5 186.4Z" fill="#ffc400" stroke="#8a6200" stroke-width="1.1"/>
<path d="M338.1 187.8L341.20 190.9L338.1 194.0L335.0 190.9Z" fill="#ffc400" stroke="#8a6200" stroke-width="1.1"/>
<path d="M324.5 183.3L327.6 186.4L324.5 189.5L321.4 186.4Z" fill="#ffc400" stroke="#8a6200" stroke-width="1.1"/>
<path d="M326.8 187.1L329.90 190.2L326.8 193.29L323.7 190.2Z" fill="#ffc400" stroke="#8a6200" stroke-width="1.1"/>
<path d="M322.3 189.4L325.40 192.5L322.3 195.6L319.2 192.5Z" fill="#ffc400" stroke="#8a6200" stroke-width="1.1"/>
<path d="M374.4 167.70L377.5 170.8L374.4 173.9L371.29 170.8Z" fill="#ffc400" stroke="#8a6200" stroke-width="1.1"/>
<path d="M331 183.9L334.1 187L331 190.1L327.9 187Z" fill="#ffc400" stroke="#8a6200" stroke-width="1.1"/>
<path d="M327 190.9L330.1 194L327 197.1L323.9 194Z" fill="#ffc400" stroke="#8a6200" stroke-width="1.1"/>
<path d="M333 188.9L336.1 192L333 195.1L329.9 192Z" fill="#ffc400" stroke="#8a6200" stroke-width="1.1"/>
<rect x="364.4" y="130.9" width="5" height="5" fill="none" stroke="#ff1010" stroke-width="1.2"/>
<rect x="370.0" y="130.9" width="5" height="5" fill="none" stroke="#ff1010" stroke-width="1.2"/>
<rect x="374.8" y="130.4" width="5" height="5" fill="none" stroke="#ff1010" stroke-width="1.2"/>
<rect x="379.5" y="127.1" width="5" height="5" fill="none" stroke="#ff1010" stroke-width="1.2"/>
<rect x="379.5" y="130.0" width="5" height="5" fill="none" stroke="#ff1010" stroke-width="1.2"/>
<rect x="386.1" y="129.0" width="5" height="5" fill="none" stroke="#ff1010" stroke-width="1.2"/>
<rect x="393.6" y="128.1" width="5" height="5" fill="none" stroke="#ff1010" stroke-width="1.2"/>
<rect x="399.3" y="126.19" width="5" height="5" fill="none" stroke="#ff1010" stroke-width="1.2"/>
<rect x="402.1" y="127.6" width="5" height="5" fill="none" stroke="#ff1010" stroke-width="1.2"/>
<rect x="407.8" y="127.1" width="5" height="5" fill="none" stroke="#ff1010" stroke-width="1.2"/>
<rect x="408.5" y="127.80" width="5" height="5" fill="none" stroke="#ff1010" stroke-width="1.2"/>
<rect x="382.8" y="151.8" width="5" height="5" fill="none" stroke="#ff1010" stroke-width="1.2"/>
<rect x="379.3" y="127.6" width="5" height="5" fill="none" stroke="#ff1010" stroke-width="1.2"/>
<rect x="385.9" y="128.5" width="5" height="5" fill="none" stroke="#ff1010" stroke-width="1.2"/>
<rect x="382.1" y="151.2" width="5" height="5" fill="none" stroke="#ff1010" stroke-width="1.2"/>
<rect x="363.3" y="151.2" width="5" height="5" fill="none" stroke="#ff1010" stroke-width="1.2"/>
<rect x="322.9" y="8.3" width="216.60" height="188.7" fill="none" stroke="#595959" stroke-width="1"/>
<line x1="319.9" y1="197.0" x2="325.9" y2="197.0" stroke="#595959" stroke-width="1"/>
<text x="314.4" y="200.3" class="t" text-anchor="end" font-size="10" fill="#222">0</text>
<line x1="322.9" y1="184.42" x2="325.4" y2="184.42" stroke="#595959" stroke-width="0.8"/>
<line x1="322.9" y1="171.84" x2="325.4" y2="171.84" stroke="#595959" stroke-width="0.8"/>
<line x1="322.9" y1="159.26" x2="325.4" y2="159.26" stroke="#595959" stroke-width="0.8"/>
<line x1="322.9" y1="146.68" x2="325.4" y2="146.68" stroke="#595959" stroke-width="0.8"/>
<line x1="319.9" y1="134.1" x2="325.9" y2="134.1" stroke="#595959" stroke-width="1"/>
<text x="314.4" y="137.4" class="t" text-anchor="end" font-size="10" fill="#222">0.1</text>
<line x1="322.9" y1="121.52" x2="325.4" y2="121.52" stroke="#595959" stroke-width="0.8"/>
<line x1="322.9" y1="108.94" x2="325.4" y2="108.94" stroke="#595959" stroke-width="0.8"/>
<line x1="322.9" y1="96.36" x2="325.4" y2="96.36" stroke="#595959" stroke-width="0.8"/>
<line x1="322.9" y1="83.78" x2="325.4" y2="83.78" stroke="#595959" stroke-width="0.8"/>
<line x1="319.9" y1="71.19" x2="325.9" y2="71.19" stroke="#595959" stroke-width="1"/>
<text x="314.4" y="74.49" class="t" text-anchor="end" font-size="10" fill="#222">0.2</text>
<line x1="322.9" y1="58.62" x2="325.4" y2="58.62" stroke="#595959" stroke-width="0.8"/>
<line x1="322.9" y1="46.03" x2="325.4" y2="46.03" stroke="#595959" stroke-width="0.8"/>
<line x1="322.9" y1="33.46" x2="325.4" y2="33.46" stroke="#595959" stroke-width="0.8"/>
<line x1="322.9" y1="20.87" x2="325.4" y2="20.87" stroke="#595959" stroke-width="0.8"/>
<line x1="319.9" y1="8.30" x2="325.9" y2="8.30" stroke="#595959" stroke-width="1"/>
<text x="314.4" y="11.60" class="t" text-anchor="end" font-size="10" fill="#222">0.3</text>
<line x1="322.9" y1="196.0" x2="322.9" y2="200.5" stroke="#595959" stroke-width="1"/>
<text x="322.9" y="212.3" class="t" text-anchor="middle" font-size="10" fill="#222">0</text>
<line x1="337.34" y1="197.0" x2="337.34" y2="194.5" stroke="#595959" stroke-width="0.8"/>
<line x1="351.78" y1="197.0" x2="351.78" y2="194.5" stroke="#595959" stroke-width="0.8"/>
<line x1="366.21" y1="197.0" x2="366.21" y2="194.5" stroke="#595959" stroke-width="0.8"/>
<line x1="380.65" y1="197.0" x2="380.65" y2="194.5" stroke="#595959" stroke-width="0.8"/>
<line x1="395.1" y1="196.0" x2="395.1" y2="200.5" stroke="#595959" stroke-width="1"/>
<text x="395.1" y="212.3" class="t" text-anchor="middle" font-size="10" fill="#222">0.1</text>
<line x1="409.53" y1="197.0" x2="409.53" y2="194.5" stroke="#595959" stroke-width="0.8"/>
<line x1="423.98" y1="197.0" x2="423.98" y2="194.5" stroke="#595959" stroke-width="0.8"/>
<line x1="438.42" y1="197.0" x2="438.42" y2="194.5" stroke="#595959" stroke-width="0.8"/>
<line x1="452.86" y1="197.0" x2="452.86" y2="194.5" stroke="#595959" stroke-width="0.8"/>
<line x1="467.3" y1="196.0" x2="467.3" y2="200.5" stroke="#595959" stroke-width="1"/>
<text x="467.3" y="212.3" class="t" text-anchor="middle" font-size="10" fill="#222">0.2</text>
<line x1="481.74" y1="197.0" x2="481.74" y2="194.5" stroke="#595959" stroke-width="0.8"/>
<line x1="496.18" y1="197.0" x2="496.18" y2="194.5" stroke="#595959" stroke-width="0.8"/>
<line x1="510.62" y1="197.0" x2="510.62" y2="194.5" stroke="#595959" stroke-width="0.8"/>
<line x1="525.06" y1="197.0" x2="525.06" y2="194.5" stroke="#595959" stroke-width="0.8"/>
<line x1="539.5" y1="196.0" x2="539.5" y2="200.5" stroke="#595959" stroke-width="1"/>
<text x="539.5" y="212.3" class="t" text-anchor="middle" font-size="10" fill="#222">0.3</text>
<text x="333.1" y="26" font-size="12" textLength="133.7" lengthAdjust="spacingAndGlyphs" fill="#111">Bhagwat and Ghajar (2014)</text>
<text x="434.4" y="47.3" font-size="12" textLength="28.4" lengthAdjust="spacingAndGlyphs" fill="#111">+20%</text>
<text x="506.9" y="80.9" font-size="12" textLength="27.8" lengthAdjust="spacingAndGlyphs" fill="#111">&#8722;20%</text>
<text x="336" y="228.8" font-size="12.3" textLength="192" lengthAdjust="spacingAndGlyphs" fill="#111">Liquid Holdup Experimental Measurement</text>
<text transform="translate(297,175) rotate(-90)" x="0" y="0" font-size="12.3" textLength="147" lengthAdjust="spacingAndGlyphs" fill="#111">Liquid Holdup Model Prediction</text>
<text x="414.3" y="258.5" text-anchor="middle" font-size="11.5" font-weight="bold" fill="#111">(d)</text>
</g>
<g id="pe">
<line x1="41.4" y1="463.5" x2="258.6" y2="274.0" stroke="#111" stroke-width="1.3"/>
<line x1="41.4" y1="463.5" x2="222.40" y2="274.0" stroke="#2a2a2a" stroke-width="0.95" stroke-dasharray="2.8,1.9"/>
<line x1="41.4" y1="463.5" x2="258.6" y2="311.9" stroke="#2a2a2a" stroke-width="0.95" stroke-dasharray="2.8,1.9"/>
<rect x="64.9" y="438.0" width="5" height="5" fill="none" stroke="#2f7ad0" stroke-width="1.2"/>
<rect x="68.6" y="436.1" width="5" height="5" fill="none" stroke="#2f7ad0" stroke-width="1.2"/>
<rect x="73.3" y="435.1" width="5" height="5" fill="none" stroke="#2f7ad0" stroke-width="1.2"/>
<rect x="116.0" y="432.3" width="5" height="5" fill="none" stroke="#2f7ad0" stroke-width="1.2"/>
<rect x="131.1" y="428.1" width="5" height="5" fill="none" stroke="#2f7ad0" stroke-width="1.2"/>
<rect x="105.1" y="437.0" width="5" height="5" fill="none" stroke="#2f7ad0" stroke-width="1.2"/>
<rect x="110.8" y="435.1" width="5" height="5" fill="none" stroke="#2f7ad0" stroke-width="1.2"/>
<rect x="91.0" y="438.9" width="5" height="5" fill="none" stroke="#2f7ad0" stroke-width="1.2"/>
<rect x="113.6" y="446.0" width="5" height="5" fill="none" stroke="#2f7ad0" stroke-width="1.2"/>
<rect x="125.9" y="445.0" width="5" height="5" fill="none" stroke="#2f7ad0" stroke-width="1.2"/>
<rect x="132.0" y="428.0" width="5" height="5" fill="none" stroke="#2f7ad0" stroke-width="1.2"/>
<rect x="142.0" y="424.8" width="5" height="5" fill="none" stroke="#2f7ad0" stroke-width="1.2"/>
<rect x="76.5" y="437.5" width="5" height="5" fill="none" stroke="#2f7ad0" stroke-width="1.2"/>
<rect x="59.5" y="443.5" width="5" height="5" fill="none" stroke="#2f7ad0" stroke-width="1.2"/>
<rect x="73.3" y="455.9" width="5" height="5" fill="none" stroke="#55bb40" stroke-width="1.2"/>
<rect x="101.8" y="430.9" width="5" height="5" fill="none" stroke="#55bb40" stroke-width="1.2"/>
<rect x="122.1" y="430.0" width="5" height="5" fill="none" stroke="#55bb40" stroke-width="1.2"/>
<rect x="116.5" y="439.4" width="5" height="5" fill="none" stroke="#55bb40" stroke-width="1.2"/>
<rect x="120.2" y="439.9" width="5" height="5" fill="none" stroke="#55bb40" stroke-width="1.2"/>
<rect x="125.9" y="452.1" width="5" height="5" fill="none" stroke="#55bb40" stroke-width="1.2"/>
<rect x="125.9" y="457.8" width="5" height="5" fill="none" stroke="#55bb40" stroke-width="1.2"/>
<rect x="91.0" y="452.1" width="5" height="5" fill="none" stroke="#55bb40" stroke-width="1.2"/>
<rect x="104.2" y="445.5" width="5" height="5" fill="none" stroke="#55bb40" stroke-width="1.2"/>
<rect x="145.1" y="432.4" width="5" height="5" fill="none" stroke="#55bb40" stroke-width="1.2"/>
<rect x="148.4" y="439.0" width="5" height="5" fill="none" stroke="#55bb40" stroke-width="1.2"/>
<rect x="146.6" y="442.0" width="5" height="5" fill="none" stroke="#55bb40" stroke-width="1.2"/>
<rect x="134.4" y="443.9" width="5" height="5" fill="none" stroke="#55bb40" stroke-width="1.2"/>
<rect x="193.3" y="430.6" width="5" height="5" fill="none" stroke="#55bb40" stroke-width="1.2"/>
<rect x="134.4" y="452.0" width="5" height="5" fill="none" stroke="#55bb40" stroke-width="1.2"/>
<rect x="144.2" y="456.6" width="5" height="5" fill="none" stroke="#55bb40" stroke-width="1.2"/>
<rect x="127.5" y="457.5" width="5" height="5" fill="none" stroke="#55bb40" stroke-width="1.2"/>
<rect x="57.5" y="458.5" width="5" height="5" fill="none" stroke="#55bb40" stroke-width="1.2"/>
<path d="M43 436L45 428L48 420L53 416.5L60 417L66 419L70 425L62 432L55 437L48 441L44 440Z" fill="#ff0000"/>
<path d="M41.4 452L60 452L80 453L90 452L90 458L80 461L70 462L55 463L41.4 463.5Z" fill="#ff0000"/>
<path d="M76.8 395.9L80.39 399.5L76.8 403.1L73.2 399.5Z" fill="#ff0000"/>
<path d="M79.6 406.29L83.19 409.9L79.6 413.5L76.0 409.9Z" fill="#ff0000"/>
<path d="M80.6 413.9L84.19 417.5L80.6 421.1L77.0 417.5Z" fill="#ff0000"/>
<path d="M83 411.4L86.6 415L83 418.6L79.4 415Z" fill="#ff0000"/>
<path d="M101.7 388.29L105.3 391.9L101.7 395.5L98.10 391.9Z" fill="#ff0000"/>
<path d="M101.7 393.9L105.3 397.5L101.7 401.1L98.10 397.5Z" fill="#ff0000"/>
<path d="M94.2 398.7L97.8 402.3L94.2 405.90L90.60 402.3Z" fill="#ff0000"/>
<path d="M81.4 407.59L85.0 411.2L81.4 414.8L77.80 411.2Z" fill="#ff0000"/>
<path d="M91.3 408.59L94.89 412.2L91.3 415.8L87.7 412.2Z" fill="#ff0000"/>
<path d="M77 410.4L80.6 414L77 417.6L73.4 414Z" fill="#ff0000"/>
<path d="M72 414.4L75.6 418L72 421.6L68.4 418Z" fill="#ff0000"/>
<path d="M58 416.4L61.6 420L58 423.6L54.4 420Z" fill="#ff0000"/>
<path d="M54 420.4L57.6 424L54 427.6L50.4 424Z" fill="#ff0000"/>
<path d="M47.5 414.4L51.1 418L47.5 421.6L43.9 418Z" fill="#ff0000"/>
<path d="M52 417.4L55.6 421L52 424.6L48.4 421Z" fill="#ff0000"/>
<path d="M57 420.4L60.6 424L57 427.6L53.4 424Z" fill="#ff0000"/>
<path d="M62 418.4L65.6 422L62 425.6L58.4 422Z" fill="#ff0000"/>
<path d="M48 422.4L51.6 426L48 429.6L44.4 426Z" fill="#ff0000"/>
<path d="M44 426.4L47.6 430L44 433.6L40.4 430Z" fill="#ff0000"/>
<path d="M46 430.4L49.6 434L46 437.6L42.4 434Z" fill="#ff0000"/>
<path d="M50 427.4L53.6 431L50 434.6L46.4 431Z" fill="#ff0000"/>
<path d="M55 424.4L58.6 428L55 431.6L51.4 428Z" fill="#ff0000"/>
<path d="M60 423.4L63.6 427L60 430.6L56.4 427Z" fill="#ff0000"/>
<path d="M82 442.4L85.6 446L82 449.6L78.4 446Z" fill="#ff0000"/>
<path d="M86 444.4L89.6 448L86 451.6L82.4 448Z" fill="#ff0000"/>
<path d="M89 446.4L92.6 450L89 453.6L85.4 450Z" fill="#ff0000"/>
<path d="M61 448.4L64.6 452L61 455.6L57.4 452Z" fill="#ff0000"/>
<path d="M68 447.4L71.6 451L68 454.6L64.4 451Z" fill="#ff0000"/>
<path d="M78 450.4L81.6 454L78 457.6L74.4 454Z" fill="#ff0000"/>
<path d="M84 449.4L87.6 453L84 456.6L80.4 453Z" fill="#ff0000"/>
<path d="M90 448.4L93.6 452L90 455.6L86.4 452Z" fill="#ff0000"/>
<path d="M95 450.4L98.6 454L95 457.6L91.4 454Z" fill="#ff0000"/>
<path d="M100 448.4L103.6 452L100 455.6L96.4 452Z" fill="#ff0000"/>
<path d="M83.4 384.59L86.5 387.7L83.4 390.8L80.30 387.7Z" fill="#5ea8e6" stroke="#1262b5" stroke-width="1.1"/>
<path d="M88.1 382.29L91.19 385.4L88.1 388.5L85.0 385.4Z" fill="#5ea8e6" stroke="#1262b5" stroke-width="1.1"/>
<path d="M75.4 390.79L78.5 393.9L75.4 397.0L72.30 393.9Z" fill="#5ea8e6" stroke="#1262b5" stroke-width="1.1"/>
<path d="M68.3 396.0L71.39 399.1L68.3 402.20L65.2 399.1Z" fill="#5ea8e6" stroke="#1262b5" stroke-width="1.1"/>
<path d="M73 395.0L76.1 398.1L73 401.20L69.9 398.1Z" fill="#5ea8e6" stroke="#1262b5" stroke-width="1.1"/>
<path d="M86.2 391.7L89.3 394.8L86.2 397.90L83.10 394.8Z" fill="#5ea8e6" stroke="#1262b5" stroke-width="1.1"/>
<path d="M85.3 396.4L88.39 399.5L85.3 402.6L82.2 399.5Z" fill="#5ea8e6" stroke="#1262b5" stroke-width="1.1"/>
<path d="M61.7 399.7L64.8 402.8L61.7 405.90L58.6 402.8Z" fill="#5ea8e6" stroke="#1262b5" stroke-width="1.1"/>
<path d="M66.4 400.2L69.5 403.3L66.4 406.40L63.30 403.3Z" fill="#5ea8e6" stroke="#1262b5" stroke-width="1.1"/>
<path d="M71.1 400.2L74.19 403.3L71.1 406.40L68.0 403.3Z" fill="#5ea8e6" stroke="#1262b5" stroke-width="1.1"/>
<path d="M78.7 400.2L81.8 403.3L78.7 406.40L75.60 403.3Z" fill="#5ea8e6" stroke="#1262b5" stroke-width="1.1"/>
<path d="M55.6 404.4L58.7 407.5L55.6 410.6L52.5 407.5Z" fill="#5ea8e6" stroke="#1262b5" stroke-width="1.1"/>
<path d="M60.8 405.9L63.9 409L60.8 412.1L57.69 409Z" fill="#5ea8e6" stroke="#1262b5" stroke-width="1.1"/>
<path d="M68.3 404.0L71.39 407.1L68.3 410.20L65.2 407.1Z" fill="#5ea8e6" stroke="#1262b5" stroke-width="1.1"/>
<path d="M73 406.79L76.1 409.9L73 413.0L69.9 409.9Z" fill="#5ea8e6" stroke="#1262b5" stroke-width="1.1"/>
<path d="M82.5 404.0L85.6 407.1L82.5 410.20L79.4 407.1Z" fill="#5ea8e6" stroke="#1262b5" stroke-width="1.1"/>
<path d="M87.2 405.9L90.3 409L87.2 412.1L84.10 409Z" fill="#5ea8e6" stroke="#1262b5" stroke-width="1.1"/>
<path d="M51.3 412.5L54.4 415.6L51.3 418.70L48.19 415.6Z" fill="#5ea8e6" stroke="#1262b5" stroke-width="1.1"/>
<path d="M55.1 409.59L58.2 412.7L55.1 415.8L52.0 412.7Z" fill="#5ea8e6" stroke="#1262b5" stroke-width="1.1"/>
<path d="M61.7 412.9L64.8 416L61.7 419.1L58.6 416Z" fill="#5ea8e6" stroke="#1262b5" stroke-width="1.1"/>
<path d="M65.5 409.59L68.6 412.7L65.5 415.8L62.4 412.7Z" fill="#5ea8e6" stroke="#1262b5" stroke-width="1.1"/>
<path d="M70.2 410.59L73.3 413.7L70.2 416.8L67.10 413.7Z" fill="#5ea8e6" stroke="#1262b5" stroke-width="1.1"/>
<path d="M68.3 417.2L71.39 420.3L68.3 423.40L65.2 420.3Z" fill="#5ea8e6" stroke="#1262b5" stroke-width="1.1"/>
<path d="M74.9 419.5L78.0 422.6L74.9 425.70L71.80 422.6Z" fill="#5ea8e6" stroke="#1262b5" stroke-width="1.1"/>
<path d="M89 398.29L92.1 401.4L89 404.5L85.9 401.4Z" fill="#5ea8e6" stroke="#1262b5" stroke-width="1.1"/>
<path d="M83.8 384.09L86.89 387.2L83.8 390.3L80.7 387.2Z" fill="#5ea8e6" stroke="#1262b5" stroke-width="1.1"/>
<path d="M90.4 382.2L93.5 385.3L90.4 388.40L87.30 385.3Z" fill="#5ea8e6" stroke="#1262b5" stroke-width="1.1"/>
<path d="M101.2 381.2L104.3 384.3L101.2 387.40L98.10 384.3Z" fill="#5ea8e6" stroke="#1262b5" stroke-width="1.1"/>
<path d="M97 385.0L100.1 388.1L97 391.20L93.9 388.1Z" fill="#5ea8e6" stroke="#1262b5" stroke-width="1.1"/>
<path d="M85.2 389.29L88.3 392.4L85.2 395.5L82.10 392.4Z" fill="#5ea8e6" stroke="#1262b5" stroke-width="1.1"/>
<path d="M92.3 387.4L95.39 390.5L92.3 393.6L89.2 390.5Z" fill="#5ea8e6" stroke="#1262b5" stroke-width="1.1"/>
<path d="M98.9 388.79L102.0 391.9L98.9 395.0L95.80 391.9Z" fill="#5ea8e6" stroke="#1262b5" stroke-width="1.1"/>
<path d="M87.1 392.09L90.19 395.2L87.1 398.3L84.0 395.2Z" fill="#5ea8e6" stroke="#1262b5" stroke-width="1.1"/>
<path d="M93.2 391.59L96.3 394.7L93.2 397.8L90.10 394.7Z" fill="#5ea8e6" stroke="#1262b5" stroke-width="1.1"/>
<path d="M96 394.9L99.1 398L96 401.1L92.9 398Z" fill="#5ea8e6" stroke="#1262b5" stroke-width="1.1"/>
<path d="M90.4 394.4L93.5 397.5L90.4 400.6L87.30 397.5Z" fill="#5ea8e6" stroke="#1262b5" stroke-width="1.1"/>
<path d="M85.2 396.79L88.3 399.9L85.2 403.0L82.10 399.9Z" fill="#5ea8e6" stroke="#1262b5" stroke-width="1.1"/>
<path d="M91.3 398.7L94.39 401.8L91.3 404.90L88.2 401.8Z" fill="#5ea8e6" stroke="#1262b5" stroke-width="1.1"/>
<path d="M85.7 400.59L88.8 403.7L85.7 406.8L82.60 403.7Z" fill="#5ea8e6" stroke="#1262b5" stroke-width="1.1"/>
<path d="M94.2 402.5L97.3 405.6L94.2 408.70L91.10 405.6Z" fill="#5ea8e6" stroke="#1262b5" stroke-width="1.1"/>
<path d="M82.8 403.4L85.89 406.5L82.8 409.6L79.7 406.5Z" fill="#5ea8e6" stroke="#1262b5" stroke-width="1.1"/>
<path d="M87.5 405.29L90.6 408.4L87.5 411.5L84.4 408.4Z" fill="#5ea8e6" stroke="#1262b5" stroke-width="1.1"/>
<path d="M93.2 405.29L96.3 408.4L93.2 411.5L90.10 408.4Z" fill="#5ea8e6" stroke="#1262b5" stroke-width="1.1"/>
<path d="M96.6 384.7L99.69 387.8L96.6 390.90L93.5 387.8Z" fill="#5ea8e6" stroke="#1262b5" stroke-width="1.1"/>
<path d="M51.3 413.79L54.4 416.9L51.3 420.0L48.19 416.9Z" fill="#5ea8e6" stroke="#1262b5" stroke-width="1.1"/>
<path d="M61.7 413.79L64.8 416.9L61.7 420.0L58.6 416.9Z" fill="#5ea8e6" stroke="#1262b5" stroke-width="1.1"/>
<path d="M68.3 417.59L71.39 420.7L68.3 423.8L65.2 420.7Z" fill="#5ea8e6" stroke="#1262b5" stroke-width="1.1"/>
<path d="M74.9 419.9L78.0 423L74.9 426.1L71.80 423Z" fill="#5ea8e6" stroke="#1262b5" stroke-width="1.1"/>
<path d="M67.4 424.2L70.5 427.3L67.4 430.40L64.30 427.3Z" fill="#5ea8e6" stroke="#1262b5" stroke-width="1.1"/>
<path d="M63.6 429.4L66.7 432.5L63.6 435.6L60.5 432.5Z" fill="#5ea8e6" stroke="#1262b5" stroke-width="1.1"/>
<path d="M58.9 431.7L62.0 434.8L58.9 437.90L55.8 434.8Z" fill="#5ea8e6" stroke="#1262b5" stroke-width="1.1"/>
<path d="M52.3 434.5L55.4 437.6L52.3 440.70L49.19 437.6Z" fill="#5ea8e6" stroke="#1262b5" stroke-width="1.1"/>
<path d="M47.5 436.9L50.6 440L47.5 443.1L44.4 440Z" fill="#5ea8e6" stroke="#1262b5" stroke-width="1.1"/>
<path d="M55.1 437.4L58.2 440.5L55.1 443.6L52.0 440.5Z" fill="#5ea8e6" stroke="#1262b5" stroke-width="1.1"/>
<path d="M42.8 440.2L45.9 443.3L42.8 446.40L39.69 443.3Z" fill="#5ea8e6" stroke="#1262b5" stroke-width="1.1"/>
<path d="M49.4 440.2L52.5 443.3L49.4 446.40L46.3 443.3Z" fill="#5ea8e6" stroke="#1262b5" stroke-width="1.1"/>
<path d="M41.9 443.0L45.0 446.1L41.9 449.20L38.8 446.1Z" fill="#5ea8e6" stroke="#1262b5" stroke-width="1.1"/>
<path d="M41.9 453.4L45.0 456.5L41.9 459.6L38.8 456.5Z" fill="#5ea8e6" stroke="#1262b5" stroke-width="1.1"/>
<path d="M69.2 434.5L72.3 437.6L69.2 440.70L66.10 437.6Z" fill="#5ea8e6" stroke="#1262b5" stroke-width="1.1"/>
<path d="M72 427.9L75.1 431L72 434.1L68.9 431Z" fill="#5ea8e6" stroke="#1262b5" stroke-width="1.1"/>
<path d="M78 421.9L81.1 425L78 428.1L74.9 425Z" fill="#5ea8e6" stroke="#1262b5" stroke-width="1.1"/>
<path d="M46 455.9L49.1 459L46 462.1L42.9 459Z" fill="#5ea8e6" stroke="#1262b5" stroke-width="1.1"/>
<path d="M45 463.5L50 462L60 461.8L70 462.5L66 463.5Z" fill="#3cae2a"/>
<circle cx="83.4" cy="438.1" r="2.5" fill="#62c83a" stroke="#2b6e1c" stroke-width="1.1"/>
<circle cx="87.2" cy="442.4" r="2.5" fill="#62c83a" stroke="#2b6e1c" stroke-width="1.1"/>
<circle cx="89" cy="433.9" r="2.5" fill="#62c83a" stroke="#2b6e1c" stroke-width="1.1"/>
<circle cx="80.6" cy="443.3" r="2.5" fill="#62c83a" stroke="#2b6e1c" stroke-width="1.1"/>
<circle cx="73" cy="441.4" r="2.5" fill="#62c83a" stroke="#2b6e1c" stroke-width="1.1"/>
<circle cx="68.3" cy="444.2" r="2.5" fill="#62c83a" stroke="#2b6e1c" stroke-width="1.1"/>
<circle cx="119.4" cy="419.2" r="2.5" fill="#62c83a" stroke="#2b6e1c" stroke-width="1.1"/>
<circle cx="124.6" cy="418.8" r="2.5" fill="#62c83a" stroke="#2b6e1c" stroke-width="1.1"/>
<circle cx="110" cy="425.4" r="2.5" fill="#62c83a" stroke="#2b6e1c" stroke-width="1.1"/>
<circle cx="105.8" cy="427.7" r="2.5" fill="#62c83a" stroke="#2b6e1c" stroke-width="1.1"/>
<circle cx="94" cy="431" r="2.5" fill="#62c83a" stroke="#2b6e1c" stroke-width="1.1"/>
<circle cx="90.7" cy="433.9" r="2.5" fill="#62c83a" stroke="#2b6e1c" stroke-width="1.1"/>
<circle cx="92.5" cy="435.3" r="2.5" fill="#62c83a" stroke="#2b6e1c" stroke-width="1.1"/>
<circle cx="100.6" cy="437.6" r="2.5" fill="#62c83a" stroke="#2b6e1c" stroke-width="1.1"/>
<circle cx="86" cy="438.6" r="2.5" fill="#62c83a" stroke="#2b6e1c" stroke-width="1.1"/>
<circle cx="87.8" cy="442.4" r="2.5" fill="#62c83a" stroke="#2b6e1c" stroke-width="1.1"/>
<circle cx="151.3" cy="410" r="2.5" fill="#62c83a" stroke="#2b6e1c" stroke-width="1.1"/>
<circle cx="77.7" cy="455.6" r="2.6" fill="#f2741c" stroke="#c24c0a" stroke-width="0.9"/>
<circle cx="114.7" cy="439.5" r="2.6" fill="#f2741c" stroke="#c24c0a" stroke-width="0.9"/>
<circle cx="110.9" cy="442.4" r="2.6" fill="#f2741c" stroke="#c24c0a" stroke-width="0.9"/>
<circle cx="127.9" cy="440.5" r="2.6" fill="#f2741c" stroke="#c24c0a" stroke-width="0.9"/>
<circle cx="102.5" cy="442.4" r="2.6" fill="#f2741c" stroke="#c24c0a" stroke-width="0.9"/>
<circle cx="97.3" cy="443.8" r="2.6" fill="#f2741c" stroke="#c24c0a" stroke-width="0.9"/>
<circle cx="90.7" cy="445.2" r="2.6" fill="#f2741c" stroke="#c24c0a" stroke-width="0.9"/>
<circle cx="86.9" cy="446.1" r="2.6" fill="#f2741c" stroke="#c24c0a" stroke-width="0.9"/>
<circle cx="99.6" cy="451.3" r="2.6" fill="#f2741c" stroke="#c24c0a" stroke-width="0.9"/>
<circle cx="106" cy="445" r="2.6" fill="#f2741c" stroke="#c24c0a" stroke-width="0.9"/>
<circle cx="157.6" cy="432.7" r="2.6" fill="#f2741c" stroke="#c24c0a" stroke-width="0.9"/>
<circle cx="137.3" cy="436.4" r="2.6" fill="#f2741c" stroke="#c24c0a" stroke-width="0.9"/>
<circle cx="137.6" cy="442.7" r="2.6" fill="#f2741c" stroke="#c24c0a" stroke-width="0.9"/>
<circle cx="75.8" cy="442.4" r="2.5" fill="#6a6a6a" stroke="#111" stroke-width="1.2"/>
<circle cx="71" cy="444.5" r="2.5" fill="#6a6a6a" stroke="#111" stroke-width="1.2"/>
<path d="M41.4 444L50 443.5L62 444.5L75 445L82 446.5L81 452L65 453L50 454L41.4 455Z" fill="#8a6508"/>
<path d="M47.3 448.59L50.4 451.7L47.3 454.8L44.19 451.7Z" fill="#ffc400" stroke="#8a6200" stroke-width="1.1"/>
<path d="M53.8 447.2L56.9 450.3L53.8 453.40L50.69 450.3Z" fill="#ffc400" stroke="#8a6200" stroke-width="1.1"/>
<path d="M58.9 447.2L62.0 450.3L58.9 453.40L55.8 450.3Z" fill="#ffc400" stroke="#8a6200" stroke-width="1.1"/>
<path d="M64 447.2L67.1 450.3L64 453.40L60.9 450.3Z" fill="#ffc400" stroke="#8a6200" stroke-width="1.1"/>
<path d="M69.1 446.4L72.19 449.5L69.1 452.6L66.0 449.5Z" fill="#ffc400" stroke="#8a6200" stroke-width="1.1"/>
<path d="M74.2 446.4L77.3 449.5L74.2 452.6L71.10 449.5Z" fill="#ffc400" stroke="#8a6200" stroke-width="1.1"/>
<path d="M78.5 446.4L81.6 449.5L78.5 452.6L75.4 449.5Z" fill="#ffc400" stroke="#8a6200" stroke-width="1.1"/>
<path d="M93.5 446.79L96.6 449.9L93.5 453.0L90.4 449.9Z" fill="#ffc400" stroke="#8a6200" stroke-width="1.1"/>
<path d="M45 442.9L48.1 446L45 449.1L41.9 446Z" fill="#ffc400" stroke="#8a6200" stroke-width="1.1"/>
<path d="M56.7 442.79L59.80 445.9L56.7 449.0L53.6 445.9Z" fill="#ffc400" stroke="#8a6200" stroke-width="1.1"/>
<path d="M62 443.4L65.1 446.5L62 449.6L58.9 446.5Z" fill="#ffc400" stroke="#8a6200" stroke-width="1.1"/>
<path d="M68 442.9L71.1 446L68 449.1L64.9 446Z" fill="#ffc400" stroke="#8a6200" stroke-width="1.1"/>
<path d="M86 446.9L89.1 450L86 453.1L82.9 450Z" fill="#ffc400" stroke="#8a6200" stroke-width="1.1"/>
<rect x="81.8" y="455.0" width="5" height="5" fill="none" stroke="#ff1010" stroke-width="1.2"/>
<rect x="84.4" y="445.5" width="5" height="5" fill="none" stroke="#ff1010" stroke-width="1.2"/>
<rect x="89.6" y="445.0" width="5" height="5" fill="none" stroke="#ff1010" stroke-width="1.2"/>
<rect x="96.7" y="444.6" width="5" height="5" fill="none" stroke="#ff1010" stroke-width="1.2"/>
<rect x="101.4" y="445.5" width="5" height="5" fill="none" stroke="#ff1010" stroke-width="1.2"/>
<rect x="105.1" y="445.5" width="5" height="5" fill="none" stroke="#ff1010" stroke-width="1.2"/>
<rect x="112.7" y="445.5" width="5" height="5" fill="none" stroke="#ff1010" stroke-width="1.2"/>
<rect x="120.2" y="445.5" width="5" height="5" fill="none" stroke="#ff1010" stroke-width="1.2"/>
<rect x="125.9" y="445.0" width="5" height="5" fill="none" stroke="#ff1010" stroke-width="1.2"/>
<rect x="101.4" y="452.1" width="5" height="5" fill="none" stroke="#ff1010" stroke-width="1.2"/>
<rect x="84.4" y="451.7" width="5" height="5" fill="none" stroke="#ff1010" stroke-width="1.2"/>
<rect x="127.5" y="445.1" width="5" height="5" fill="none" stroke="#ff1010" stroke-width="1.2"/>
<rect x="77.5" y="452.5" width="5" height="5" fill="none" stroke="#ff1010" stroke-width="1.2"/>
<rect x="69.5" y="454.5" width="5" height="5" fill="none" stroke="#ff1010" stroke-width="1.2"/>
<rect x="41.4" y="274" width="217.20" height="189.5" fill="none" stroke="#595959" stroke-width="1"/>
<line x1="38.4" y1="463.5" x2="44.4" y2="463.5" stroke="#595959" stroke-width="1"/>
<text x="32.9" y="466.8" class="t" text-anchor="end" font-size="10" fill="#222">0</text>
<line x1="41.4" y1="450.86" x2="43.9" y2="450.86" stroke="#595959" stroke-width="0.8"/>
<line x1="41.4" y1="438.23" x2="43.9" y2="438.23" stroke="#595959" stroke-width="0.8"/>
<line x1="41.4" y1="425.6" x2="43.9" y2="425.6" stroke="#595959" stroke-width="0.8"/>
<line x1="41.4" y1="412.96" x2="43.9" y2="412.96" stroke="#595959" stroke-width="0.8"/>
<line x1="38.4" y1="400.33" x2="44.4" y2="400.33" stroke="#595959" stroke-width="1"/>
<text x="32.9" y="403.63" class="t" text-anchor="end" font-size="10" fill="#222">0.1</text>
<line x1="41.4" y1="387.7" x2="43.9" y2="387.7" stroke="#595959" stroke-width="0.8"/>
<line x1="41.4" y1="375.06" x2="43.9" y2="375.06" stroke="#595959" stroke-width="0.8"/>
<line x1="41.4" y1="362.43" x2="43.9" y2="362.43" stroke="#595959" stroke-width="0.8"/>
<line x1="41.4" y1="349.8" x2="43.9" y2="349.8" stroke="#595959" stroke-width="0.8"/>
<line x1="38.4" y1="337.16" x2="44.4" y2="337.16" stroke="#595959" stroke-width="1"/>
<text x="32.9" y="340.46" class="t" text-anchor="end" font-size="10" fill="#222">0.2</text>
<line x1="41.4" y1="324.53" x2="43.9" y2="324.53" stroke="#595959" stroke-width="0.8"/>
<line x1="41.4" y1="311.9" x2="43.9" y2="311.9" stroke="#595959" stroke-width="0.8"/>
<line x1="41.4" y1="299.26" x2="43.9" y2="299.26" stroke="#595959" stroke-width="0.8"/>
<line x1="41.4" y1="286.63" x2="43.9" y2="286.63" stroke="#595959" stroke-width="0.8"/>
<line x1="38.4" y1="274.0" x2="44.4" y2="274.0" stroke="#595959" stroke-width="1"/>
<text x="32.9" y="277.3" class="t" text-anchor="end" font-size="10" fill="#222">0.3</text>
<line x1="41.4" y1="462.5" x2="41.4" y2="467.0" stroke="#595959" stroke-width="1"/>
<text x="41.4" y="478.8" class="t" text-anchor="middle" font-size="10" fill="#222">0</text>
<line x1="55.88" y1="463.5" x2="55.88" y2="461.0" stroke="#595959" stroke-width="0.8"/>
<line x1="70.36" y1="463.5" x2="70.36" y2="461.0" stroke="#595959" stroke-width="0.8"/>
<line x1="84.84" y1="463.5" x2="84.84" y2="461.0" stroke="#595959" stroke-width="0.8"/>
<line x1="99.32" y1="463.5" x2="99.32" y2="461.0" stroke="#595959" stroke-width="0.8"/>
<line x1="113.80" y1="462.5" x2="113.80" y2="467.0" stroke="#595959" stroke-width="1"/>
<text x="113.80" y="478.8" class="t" text-anchor="middle" font-size="10" fill="#222">0.1</text>
<line x1="128.28" y1="463.5" x2="128.28" y2="461.0" stroke="#595959" stroke-width="0.8"/>
<line x1="142.76" y1="463.5" x2="142.76" y2="461.0" stroke="#595959" stroke-width="0.8"/>
<line x1="157.24" y1="463.5" x2="157.24" y2="461.0" stroke="#595959" stroke-width="0.8"/>
<line x1="171.72" y1="463.5" x2="171.72" y2="461.0" stroke="#595959" stroke-width="0.8"/>
<line x1="186.20" y1="462.5" x2="186.20" y2="467.0" stroke="#595959" stroke-width="1"/>
<text x="186.20" y="478.8" class="t" text-anchor="middle" font-size="10" fill="#222">0.2</text>
<line x1="200.68" y1="463.5" x2="200.68" y2="461.0" stroke="#595959" stroke-width="0.8"/>
<line x1="215.16" y1="463.5" x2="215.16" y2="461.0" stroke="#595959" stroke-width="0.8"/>
<line x1="229.64" y1="463.5" x2="229.64" y2="461.0" stroke="#595959" stroke-width="0.8"/>
<line x1="244.12" y1="463.5" x2="244.12" y2="461.0" stroke="#595959" stroke-width="0.8"/>
<line x1="258.6" y1="462.5" x2="258.6" y2="467.0" stroke="#595959" stroke-width="1"/>
<text x="258.6" y="478.8" class="t" text-anchor="middle" font-size="10" fill="#222">0.3</text>
<text x="51.6" y="291.6" font-size="12" textLength="110.5" lengthAdjust="spacingAndGlyphs" fill="#111">Beggs and Brill (1973)</text>
<text x="153" y="313.7" font-size="12" textLength="28.4" lengthAdjust="spacingAndGlyphs" fill="#111">+20%</text>
<text x="225.1" y="348.5" font-size="12" textLength="27.8" lengthAdjust="spacingAndGlyphs" fill="#111">&#8722;20%</text>
<text x="54.2" y="495.3" font-size="12.3" textLength="191.2" lengthAdjust="spacingAndGlyphs" fill="#111">Liquid Holdup Experimental Measurement</text>
<text transform="translate(15.8,441.5) rotate(-90)" x="0" y="0" font-size="12.3" textLength="147.0" lengthAdjust="spacingAndGlyphs" fill="#111">Liquid Holdup Model Prediction</text>
<text x="132" y="525" text-anchor="middle" font-size="11.5" font-weight="bold" fill="#111">(e)</text>
</g>
<g id="pf">
<line x1="324.4" y1="463.7" x2="540.7" y2="274.0" stroke="#111" stroke-width="1.3"/>
<line x1="324.4" y1="463.7" x2="504.65" y2="274.0" stroke="#2a2a2a" stroke-width="0.95" stroke-dasharray="2.8,1.9"/>
<line x1="324.4" y1="463.7" x2="540.7" y2="311.94" stroke="#2a2a2a" stroke-width="0.95" stroke-dasharray="2.8,1.9"/>
<rect x="358.0" y="449.0" width="5" height="5" fill="none" stroke="#2f7ad0" stroke-width="1.2"/>
<rect x="399.3" y="414.4" width="5" height="5" fill="none" stroke="#2f7ad0" stroke-width="1.2"/>
<rect x="394.8" y="404.2" width="5" height="5" fill="none" stroke="#2f7ad0" stroke-width="1.2"/>
<rect x="395.9" y="435.9" width="5" height="5" fill="none" stroke="#2f7ad0" stroke-width="1.2"/>
<rect x="406.7" y="433.6" width="5" height="5" fill="none" stroke="#2f7ad0" stroke-width="1.2"/>
<rect x="387.4" y="433.1" width="5" height="5" fill="none" stroke="#2f7ad0" stroke-width="1.2"/>
<rect x="386.3" y="441.0" width="5" height="5" fill="none" stroke="#2f7ad0" stroke-width="1.2"/>
<rect x="425.3" y="395.8" width="5" height="5" fill="none" stroke="#2f7ad0" stroke-width="1.2"/>
<rect x="415.0" y="403.3" width="5" height="5" fill="none" stroke="#2f7ad0" stroke-width="1.2"/>
<rect x="394.2" y="404.3" width="5" height="5" fill="none" stroke="#2f7ad0" stroke-width="1.2"/>
<rect x="398.9" y="413.7" width="5" height="5" fill="none" stroke="#2f7ad0" stroke-width="1.2"/>
<rect x="425.5" y="396.3" width="5" height="5" fill="none" stroke="#2f7ad0" stroke-width="1.2"/>
<rect x="415.1" y="403.3" width="5" height="5" fill="none" stroke="#2f7ad0" stroke-width="1.2"/>
<rect x="399.1" y="414.7" width="5" height="5" fill="none" stroke="#2f7ad0" stroke-width="1.2"/>
<rect x="394.4" y="404.8" width="5" height="5" fill="none" stroke="#2f7ad0" stroke-width="1.2"/>
<rect x="398.2" y="435.9" width="5" height="5" fill="none" stroke="#2f7ad0" stroke-width="1.2"/>
<rect x="405.7" y="434.0" width="5" height="5" fill="none" stroke="#2f7ad0" stroke-width="1.2"/>
<rect x="410.4" y="431.2" width="5" height="5" fill="none" stroke="#2f7ad0" stroke-width="1.2"/>
<rect x="329.9" y="431.4" width="5" height="5" fill="none" stroke="#55bb40" stroke-width="1.2"/>
<rect x="328.9" y="437.6" width="5" height="5" fill="none" stroke="#55bb40" stroke-width="1.2"/>
<rect x="321.6" y="449.0" width="5" height="5" fill="none" stroke="#55bb40" stroke-width="1.2"/>
<rect x="341.4" y="419.4" width="5" height="5" fill="none" stroke="#55bb40" stroke-width="1.2"/>
<rect x="364.2" y="412.2" width="5" height="5" fill="none" stroke="#55bb40" stroke-width="1.2"/>
<rect x="378.4" y="405.9" width="5" height="5" fill="none" stroke="#55bb40" stroke-width="1.2"/>
<rect x="385.1" y="410.4" width="5" height="5" fill="none" stroke="#55bb40" stroke-width="1.2"/>
<rect x="380.8" y="379.4" width="5" height="5" fill="none" stroke="#55bb40" stroke-width="1.2"/>
<rect x="380.2" y="406.4" width="5" height="5" fill="none" stroke="#55bb40" stroke-width="1.2"/>
<rect x="409.3" y="329.8" width="5" height="5" fill="none" stroke="#55bb40" stroke-width="1.2"/>
<rect x="432.5" y="332.6" width="5" height="5" fill="none" stroke="#55bb40" stroke-width="1.2"/>
<rect x="417.8" y="355.2" width="5" height="5" fill="none" stroke="#55bb40" stroke-width="1.2"/>
<rect x="417.8" y="364.7" width="5" height="5" fill="none" stroke="#55bb40" stroke-width="1.2"/>
<rect x="408.3" y="376.9" width="5" height="5" fill="none" stroke="#55bb40" stroke-width="1.2"/>
<rect x="405.5" y="383.5" width="5" height="5" fill="none" stroke="#55bb40" stroke-width="1.2"/>
<rect x="430.0" y="380.7" width="5" height="5" fill="none" stroke="#55bb40" stroke-width="1.2"/>
<rect x="381.9" y="379.8" width="5" height="5" fill="none" stroke="#55bb40" stroke-width="1.2"/>
<rect x="384.8" y="386.4" width="5" height="5" fill="none" stroke="#55bb40" stroke-width="1.2"/>
<rect x="389.5" y="393.9" width="5" height="5" fill="none" stroke="#55bb40" stroke-width="1.2"/>
<rect x="402.7" y="393.0" width="5" height="5" fill="none" stroke="#55bb40" stroke-width="1.2"/>
<rect x="400.8" y="398.6" width="5" height="5" fill="none" stroke="#55bb40" stroke-width="1.2"/>
<rect x="387.6" y="400.5" width="5" height="5" fill="none" stroke="#55bb40" stroke-width="1.2"/>
<rect x="380.0" y="406.2" width="5" height="5" fill="none" stroke="#55bb40" stroke-width="1.2"/>
<rect x="385.7" y="406.2" width="5" height="5" fill="none" stroke="#55bb40" stroke-width="1.2"/>
<rect x="386.7" y="410.9" width="5" height="5" fill="none" stroke="#55bb40" stroke-width="1.2"/>
<rect x="428.3" y="310.7" width="5" height="5" fill="none" stroke="#55bb40" stroke-width="1.2"/>
<rect x="476.0" y="345.0" width="5" height="5" fill="none" stroke="#55bb40" stroke-width="1.2"/>
<rect x="401.5" y="399.1" width="5" height="5" fill="none" stroke="#55bb40" stroke-width="1.2"/>
<rect x="323.5" y="444.5" width="5" height="5" fill="none" stroke="#55bb40" stroke-width="1.2"/>
<rect x="332.5" y="425.5" width="5" height="5" fill="none" stroke="#55bb40" stroke-width="1.2"/>
<rect x="343.5" y="421.5" width="5" height="5" fill="none" stroke="#55bb40" stroke-width="1.2"/>
<rect x="375.5" y="413.5" width="5" height="5" fill="none" stroke="#55bb40" stroke-width="1.2"/>
<path d="M322 457L330 451L340 448L350 445L362 441L372 437.5L382 433L390 429L392 434L378 441L362 448L348 452.5L334 458L325 463.7Z" fill="#ff0000"/>
<path d="M370 437.4L373.6 441L370 444.6L366.4 441Z" fill="#ff0000"/>
<path d="M375 436.4L378.6 440L375 443.6L371.4 440Z" fill="#ff0000"/>
<path d="M380 434.4L383.6 438L380 441.6L376.4 438Z" fill="#ff0000"/>
<path d="M384 432.4L387.6 436L384 439.6L380.4 436Z" fill="#ff0000"/>
<path d="M365 443.4L368.6 447L365 450.6L361.4 447Z" fill="#ff0000"/>
<path d="M360 446.4L363.6 450L360 453.6L356.4 450Z" fill="#ff0000"/>
<path d="M354 448.4L357.6 452L354 455.6L350.4 452Z" fill="#ff0000"/>
<path d="M348 449.4L351.6 453L348 456.6L344.4 453Z" fill="#ff0000"/>
<path d="M342 450.4L345.6 454L342 457.6L338.4 454Z" fill="#ff0000"/>
<path d="M336 452.4L339.6 456L336 459.6L332.4 456Z" fill="#ff0000"/>
<path d="M330 454.4L333.6 458L330 461.6L326.4 458Z" fill="#ff0000"/>
<path d="M325 456.4L328.6 460L325 463.6L321.4 460Z" fill="#ff0000"/>
<path d="M386.5 430.4L390.1 434L386.5 437.6L382.9 434Z" fill="#ff0000"/>
<path d="M335.6 443.2L338.70 446.3L335.6 449.40L332.5 446.3Z" fill="#5ea8e6" stroke="#1262b5" stroke-width="1.1"/>
<path d="M339.7 441.09L342.8 444.2L339.7 447.3L336.59 444.2Z" fill="#5ea8e6" stroke="#1262b5" stroke-width="1.1"/>
<path d="M343.9 439.09L347.0 442.2L343.9 445.3L340.79 442.2Z" fill="#5ea8e6" stroke="#1262b5" stroke-width="1.1"/>
<path d="M348 437.0L351.1 440.1L348 443.20L344.9 440.1Z" fill="#5ea8e6" stroke="#1262b5" stroke-width="1.1"/>
<path d="M351.1 432.79L354.20 435.9L351.1 439.0L348.0 435.9Z" fill="#5ea8e6" stroke="#1262b5" stroke-width="1.1"/>
<path d="M355.3 430.2L358.40 433.3L355.3 436.40L352.2 433.3Z" fill="#5ea8e6" stroke="#1262b5" stroke-width="1.1"/>
<path d="M351.1 428.7L354.20 431.8L351.1 434.90L348.0 431.8Z" fill="#5ea8e6" stroke="#1262b5" stroke-width="1.1"/>
<path d="M356.3 438.0L359.40 441.1L356.3 444.20L353.2 441.1Z" fill="#5ea8e6" stroke="#1262b5" stroke-width="1.1"/>
<path d="M360.5 437.0L363.6 440.1L360.5 443.20L357.4 440.1Z" fill="#5ea8e6" stroke="#1262b5" stroke-width="1.1"/>
<path d="M358.4 433.9L361.5 437L358.4 440.1L355.29 437Z" fill="#5ea8e6" stroke="#1262b5" stroke-width="1.1"/>
<path d="M362.5 425.59L365.6 428.7L362.5 431.8L359.4 428.7Z" fill="#5ea8e6" stroke="#1262b5" stroke-width="1.1"/>
<path d="M366.7 423.5L369.8 426.6L366.7 429.70L363.59 426.6Z" fill="#5ea8e6" stroke="#1262b5" stroke-width="1.1"/>
<path d="M367.7 430.79L370.8 433.9L367.7 437.0L364.59 433.9Z" fill="#5ea8e6" stroke="#1262b5" stroke-width="1.1"/>
<path d="M363.6 431.79L366.70 434.9L363.6 438.0L360.5 434.9Z" fill="#5ea8e6" stroke="#1262b5" stroke-width="1.1"/>
<path d="M367.7 420.4L370.8 423.5L367.7 426.6L364.59 423.5Z" fill="#5ea8e6" stroke="#1262b5" stroke-width="1.1"/>
<path d="M348 440.9L351.1 444L348 447.1L344.9 444Z" fill="#5ea8e6" stroke="#1262b5" stroke-width="1.1"/>
<path d="M352 435.9L355.1 439L352 442.1L348.9 439Z" fill="#5ea8e6" stroke="#1262b5" stroke-width="1.1"/>
<path d="M373.5 418.9L376.6 422L373.5 425.1L370.4 422Z" fill="#5ea8e6" stroke="#1262b5" stroke-width="1.1"/>
<path d="M368.4 421.7L371.5 424.8L368.4 427.90L365.29 424.8Z" fill="#5ea8e6" stroke="#1262b5" stroke-width="1.1"/>
<path d="M376.3 422.29L379.40 425.4L376.3 428.5L373.2 425.4Z" fill="#5ea8e6" stroke="#1262b5" stroke-width="1.1"/>
<path d="M384.3 422.9L387.40 426L384.3 429.1L381.2 426Z" fill="#5ea8e6" stroke="#1262b5" stroke-width="1.1"/>
<path d="M372.9 426.79L376.0 429.9L372.9 433.0L369.79 429.9Z" fill="#5ea8e6" stroke="#1262b5" stroke-width="1.1"/>
<path d="M379.7 425.7L382.8 428.8L379.7 431.90L376.59 428.8Z" fill="#5ea8e6" stroke="#1262b5" stroke-width="1.1"/>
<path d="M367.3 427.9L370.40 431L367.3 434.1L364.2 431Z" fill="#5ea8e6" stroke="#1262b5" stroke-width="1.1"/>
<path d="M375.2 431.29L378.3 434.4L375.2 437.5L372.09 434.4Z" fill="#5ea8e6" stroke="#1262b5" stroke-width="1.1"/>
<path d="M380.9 429.09L384.0 432.2L380.9 435.3L377.79 432.2Z" fill="#5ea8e6" stroke="#1262b5" stroke-width="1.1"/>
<path d="M368.4 434.7L371.5 437.8L368.4 440.90L365.29 437.8Z" fill="#5ea8e6" stroke="#1262b5" stroke-width="1.1"/>
<path d="M339.2 442.09L342.3 445.2L339.2 448.3L336.09 445.2Z" fill="#5ea8e6" stroke="#1262b5" stroke-width="1.1"/>
<path d="M344.5 439.5L347.6 442.6L344.5 445.70L341.4 442.6Z" fill="#5ea8e6" stroke="#1262b5" stroke-width="1.1"/>
<path d="M348.4 436.79L351.5 439.9L348.4 443.0L345.29 439.9Z" fill="#5ea8e6" stroke="#1262b5" stroke-width="1.1"/>
<path d="M351.1 431.5L354.20 434.6L351.1 437.70L348.0 434.6Z" fill="#5ea8e6" stroke="#1262b5" stroke-width="1.1"/>
<path d="M355 428.9L358.1 432L355 435.1L351.9 432Z" fill="#5ea8e6" stroke="#1262b5" stroke-width="1.1"/>
<path d="M361.6 424.9L364.70 428L361.6 431.1L358.5 428Z" fill="#5ea8e6" stroke="#1262b5" stroke-width="1.1"/>
<path d="M368.2 420.9L371.3 424L368.2 427.1L365.09 424Z" fill="#5ea8e6" stroke="#1262b5" stroke-width="1.1"/>
<path d="M373.5 418.29L376.6 421.4L373.5 424.5L370.4 421.4Z" fill="#5ea8e6" stroke="#1262b5" stroke-width="1.1"/>
<path d="M377.5 422.29L380.6 425.4L377.5 428.5L374.4 425.4Z" fill="#5ea8e6" stroke="#1262b5" stroke-width="1.1"/>
<path d="M382.8 422.29L385.90 425.4L382.8 428.5L379.7 425.4Z" fill="#5ea8e6" stroke="#1262b5" stroke-width="1.1"/>
<path d="M380.1 427.59L383.20 430.7L380.1 433.8L377.0 430.7Z" fill="#5ea8e6" stroke="#1262b5" stroke-width="1.1"/>
<path d="M374.8 431.5L377.90 434.6L374.8 437.70L371.7 434.6Z" fill="#5ea8e6" stroke="#1262b5" stroke-width="1.1"/>
<path d="M366.9 431.5L370.0 434.6L366.9 437.70L363.79 434.6Z" fill="#5ea8e6" stroke="#1262b5" stroke-width="1.1"/>
<path d="M359 434.2L362.1 437.3L359 440.40L355.9 437.3Z" fill="#5ea8e6" stroke="#1262b5" stroke-width="1.1"/>
<path d="M355 438.09L358.1 441.2L355 444.3L351.9 441.2Z" fill="#5ea8e6" stroke="#1262b5" stroke-width="1.1"/>
<path d="M364.3 427.59L367.40 430.7L364.3 433.8L361.2 430.7Z" fill="#5ea8e6" stroke="#1262b5" stroke-width="1.1"/>
<path d="M351.1 426.2L354.20 429.3L351.1 432.40L348.0 429.3Z" fill="#5ea8e6" stroke="#1262b5" stroke-width="1.1"/>
<path d="M332.5 442.9L335.6 446L332.5 449.1L329.4 446Z" fill="#5ea8e6" stroke="#1262b5" stroke-width="1.1"/>
<path d="M337 440.4L340.1 443.5L337 446.6L333.9 443.5Z" fill="#5ea8e6" stroke="#1262b5" stroke-width="1.1"/>
<path d="M342 438.4L345.1 441.5L342 444.6L338.9 441.5Z" fill="#5ea8e6" stroke="#1262b5" stroke-width="1.1"/>
<path d="M328.5 445.9L331.6 449L328.5 452.1L325.4 449Z" fill="#5ea8e6" stroke="#1262b5" stroke-width="1.1"/>
<circle cx="351.1" cy="414.7" r="2.5" fill="#62c83a" stroke="#2b6e1c" stroke-width="1.1"/>
<circle cx="356.3" cy="415.7" r="2.5" fill="#62c83a" stroke="#2b6e1c" stroke-width="1.1"/>
<circle cx="358.4" cy="424" r="2.5" fill="#62c83a" stroke="#2b6e1c" stroke-width="1.1"/>
<circle cx="362.5" cy="423.5" r="2.5" fill="#62c83a" stroke="#2b6e1c" stroke-width="1.1"/>
<circle cx="345.9" cy="426.6" r="2.5" fill="#62c83a" stroke="#2b6e1c" stroke-width="1.1"/>
<circle cx="367.2" cy="418.3" r="2.5" fill="#62c83a" stroke="#2b6e1c" stroke-width="1.1"/>
<circle cx="366.7" cy="409" r="2.5" fill="#62c83a" stroke="#2b6e1c" stroke-width="1.1"/>
<circle cx="370.1" cy="408.4" r="2.5" fill="#62c83a" stroke="#2b6e1c" stroke-width="1.1"/>
<circle cx="373.5" cy="412.4" r="2.5" fill="#62c83a" stroke="#2b6e1c" stroke-width="1.1"/>
<circle cx="369" cy="419.2" r="2.5" fill="#62c83a" stroke="#2b6e1c" stroke-width="1.1"/>
<circle cx="373.5" cy="380.7" r="2.5" fill="#62c83a" stroke="#2b6e1c" stroke-width="1.1"/>
<circle cx="375.3" cy="384.4" r="2.5" fill="#62c83a" stroke="#2b6e1c" stroke-width="1.1"/>
<circle cx="377.1" cy="392.9" r="2.5" fill="#62c83a" stroke="#2b6e1c" stroke-width="1.1"/>
<circle cx="383.3" cy="389.9" r="2.5" fill="#62c83a" stroke="#2b6e1c" stroke-width="1.1"/>
<circle cx="367.3" cy="397.2" r="2.5" fill="#62c83a" stroke="#2b6e1c" stroke-width="1.1"/>
<circle cx="362.4" cy="405.2" r="2.5" fill="#62c83a" stroke="#2b6e1c" stroke-width="1.1"/>
<circle cx="367.3" cy="408.9" r="2.5" fill="#62c83a" stroke="#2b6e1c" stroke-width="1.1"/>
<circle cx="370.4" cy="408.3" r="2.5" fill="#62c83a" stroke="#2b6e1c" stroke-width="1.1"/>
<circle cx="374.1" cy="412" r="2.5" fill="#62c83a" stroke="#2b6e1c" stroke-width="1.1"/>
<circle cx="351.4" cy="414.4" r="2.5" fill="#62c83a" stroke="#2b6e1c" stroke-width="1.1"/>
<circle cx="356" cy="414.4" r="2.5" fill="#62c83a" stroke="#2b6e1c" stroke-width="1.1"/>
<circle cx="402.9" cy="332.8" r="2.5" fill="#62c83a" stroke="#2b6e1c" stroke-width="1.1"/>
<circle cx="408" cy="338.9" r="2.5" fill="#62c83a" stroke="#2b6e1c" stroke-width="1.1"/>
<circle cx="392" cy="359.6" r="2.5" fill="#62c83a" stroke="#2b6e1c" stroke-width="1.1"/>
<circle cx="389.2" cy="364.3" r="2.5" fill="#62c83a" stroke="#2b6e1c" stroke-width="1.1"/>
<circle cx="393.9" cy="363.4" r="2.5" fill="#62c83a" stroke="#2b6e1c" stroke-width="1.1"/>
<circle cx="375" cy="382.3" r="2.5" fill="#62c83a" stroke="#2b6e1c" stroke-width="1.1"/>
<circle cx="377.3" cy="392.6" r="2.5" fill="#62c83a" stroke="#2b6e1c" stroke-width="1.1"/>
<circle cx="383.5" cy="390.8" r="2.5" fill="#62c83a" stroke="#2b6e1c" stroke-width="1.1"/>
<circle cx="434.3" cy="308" r="2.5" fill="#62c83a" stroke="#2b6e1c" stroke-width="1.1"/>
<circle cx="366.9" cy="397" r="2.5" fill="#62c83a" stroke="#2b6e1c" stroke-width="1.1"/>
<circle cx="362.3" cy="404.9" r="2.5" fill="#62c83a" stroke="#2b6e1c" stroke-width="1.1"/>
<circle cx="366.9" cy="408.2" r="2.5" fill="#62c83a" stroke="#2b6e1c" stroke-width="1.1"/>
<circle cx="370.2" cy="408.2" r="2.5" fill="#62c83a" stroke="#2b6e1c" stroke-width="1.1"/>
<circle cx="374.2" cy="411.5" r="2.5" fill="#62c83a" stroke="#2b6e1c" stroke-width="1.1"/>
<circle cx="351.1" cy="414.8" r="2.5" fill="#62c83a" stroke="#2b6e1c" stroke-width="1.1"/>
<circle cx="356.3" cy="416.1" r="2.5" fill="#62c83a" stroke="#2b6e1c" stroke-width="1.1"/>
<circle cx="368.2" cy="418.8" r="2.5" fill="#62c83a" stroke="#2b6e1c" stroke-width="1.1"/>
<circle cx="359" cy="422.7" r="2.5" fill="#62c83a" stroke="#2b6e1c" stroke-width="1.1"/>
<circle cx="345.1" cy="427.4" r="2.5" fill="#62c83a" stroke="#2b6e1c" stroke-width="1.1"/>
<circle cx="397.8" cy="410.7" r="2.6" fill="#f2741c" stroke="#c24c0a" stroke-width="0.9"/>
<circle cx="393.9" cy="416.9" r="2.6" fill="#f2741c" stroke="#c24c0a" stroke-width="0.9"/>
<circle cx="386" cy="419.7" r="2.6" fill="#f2741c" stroke="#c24c0a" stroke-width="0.9"/>
<circle cx="389.3" cy="427.6" r="2.6" fill="#f2741c" stroke="#c24c0a" stroke-width="0.9"/>
<circle cx="382" cy="425.4" r="2.6" fill="#f2741c" stroke="#c24c0a" stroke-width="0.9"/>
<circle cx="421.2" cy="372.8" r="2.6" fill="#f2741c" stroke="#c24c0a" stroke-width="0.9"/>
<circle cx="420.3" cy="391.3" r="2.6" fill="#f2741c" stroke="#c24c0a" stroke-width="0.9"/>
<circle cx="411.8" cy="401.5" r="2.6" fill="#f2741c" stroke="#c24c0a" stroke-width="0.9"/>
<circle cx="397.6" cy="410.6" r="2.6" fill="#f2741c" stroke="#c24c0a" stroke-width="0.9"/>
<circle cx="393.9" cy="416.2" r="2.6" fill="#f2741c" stroke="#c24c0a" stroke-width="0.9"/>
<circle cx="386.3" cy="419.1" r="2.6" fill="#f2741c" stroke="#c24c0a" stroke-width="0.9"/>
<circle cx="441.2" cy="335.1" r="2.6" fill="#f2741c" stroke="#c24c0a" stroke-width="0.9"/>
<circle cx="411.5" cy="401.6" r="2.6" fill="#f2741c" stroke="#c24c0a" stroke-width="0.9"/>
<circle cx="397.8" cy="410.6" r="2.6" fill="#f2741c" stroke="#c24c0a" stroke-width="0.9"/>
<circle cx="395.5" cy="417.2" r="2.6" fill="#f2741c" stroke="#c24c0a" stroke-width="0.9"/>
<circle cx="344.1" cy="430.5" r="2.5" fill="#6a6a6a" stroke="#111" stroke-width="1.2"/>
<circle cx="335.9" cy="437.3" r="2.5" fill="#6a6a6a" stroke="#111" stroke-width="1.2"/>
<circle cx="341.8" cy="438.2" r="2.5" fill="#6a6a6a" stroke="#111" stroke-width="1.2"/>
<circle cx="346.4" cy="437.3" r="2.5" fill="#6a6a6a" stroke="#111" stroke-width="1.2"/>
<circle cx="331.4" cy="447.8" r="2.5" fill="#6a6a6a" stroke="#111" stroke-width="1.2"/>
<circle cx="354.5" cy="429.1" r="2.5" fill="#6a6a6a" stroke="#111" stroke-width="1.2"/>
<circle cx="351.8" cy="420.9" r="2.5" fill="#6a6a6a" stroke="#111" stroke-width="1.2"/>
<circle cx="345.1" cy="418.1" r="2.5" fill="#6a6a6a" stroke="#111" stroke-width="1.2"/>
<circle cx="352.4" cy="419.4" r="2.5" fill="#6a6a6a" stroke="#111" stroke-width="1.2"/>
<circle cx="359.6" cy="416.1" r="2.5" fill="#6a6a6a" stroke="#111" stroke-width="1.2"/>
<circle cx="345.7" cy="318.7" r="2.5" fill="#6a6a6a" stroke="#111" stroke-width="1.2"/>
<circle cx="354.7" cy="324.3" r="2.5" fill="#6a6a6a" stroke="#111" stroke-width="1.2"/>
<path d="M322 463.7L322 458L328 453L334 457L332 463.7Z" fill="#8a6508"/>
<path d="M331.8 451.4L334.90 454.5L331.8 457.6L328.7 454.5Z" fill="#ffc400" stroke="#8a6200" stroke-width="1.1"/>
<path d="M337.3 450.5L340.40 453.6L337.3 456.70L334.2 453.6Z" fill="#ffc400" stroke="#8a6200" stroke-width="1.1"/>
<path d="M341.8 449.59L344.90 452.7L341.8 455.8L338.7 452.7Z" fill="#ffc400" stroke="#8a6200" stroke-width="1.1"/>
<path d="M348.2 450.09L351.3 453.2L348.2 456.3L345.09 453.2Z" fill="#ffc400" stroke="#8a6200" stroke-width="1.1"/>
<path d="M330 455.9L333.1 459L330 462.1L326.9 459Z" fill="#ffc400" stroke="#8a6200" stroke-width="1.1"/>
<path d="M336.4 455.9L339.5 459L336.4 462.1L333.29 459Z" fill="#ffc400" stroke="#8a6200" stroke-width="1.1"/>
<path d="M341.8 455.09L344.90 458.2L341.8 461.3L338.7 458.2Z" fill="#ffc400" stroke="#8a6200" stroke-width="1.1"/>
<path d="M347.3 455.09L350.40 458.2L347.3 461.3L344.2 458.2Z" fill="#ffc400" stroke="#8a6200" stroke-width="1.1"/>
<path d="M353.6 454.2L356.70 457.3L353.6 460.40L350.5 457.3Z" fill="#ffc400" stroke="#8a6200" stroke-width="1.1"/>
<path d="M357.3 453.29L360.40 456.4L357.3 459.5L354.2 456.4Z" fill="#ffc400" stroke="#8a6200" stroke-width="1.1"/>
<path d="M362.7 454.2L365.8 457.3L362.7 460.40L359.59 457.3Z" fill="#ffc400" stroke="#8a6200" stroke-width="1.1"/>
<path d="M323.6 456.9L326.70 460L323.6 463.1L320.5 460Z" fill="#ffc400" stroke="#8a6200" stroke-width="1.1"/>
<path d="M376.3 454.0L379.40 457.1L376.3 460.20L373.2 457.1Z" fill="#ffc400" stroke="#8a6200" stroke-width="1.1"/>
<path d="M326 453.9L329.1 457L326 460.1L322.9 457Z" fill="#ffc400" stroke="#8a6200" stroke-width="1.1"/>
<rect x="356.9" y="449.0" width="5" height="5" fill="none" stroke="#ff1010" stroke-width="1.2"/>
<rect x="364.2" y="451.1" width="5" height="5" fill="none" stroke="#ff1010" stroke-width="1.2"/>
<rect x="387.4" y="433.1" width="5" height="5" fill="none" stroke="#ff1010" stroke-width="1.2"/>
<rect x="395.3" y="432.5" width="5" height="5" fill="none" stroke="#ff1010" stroke-width="1.2"/>
<rect x="401.0" y="428.5" width="5" height="5" fill="none" stroke="#ff1010" stroke-width="1.2"/>
<rect x="404.4" y="430.8" width="5" height="5" fill="none" stroke="#ff1010" stroke-width="1.2"/>
<rect x="410.1" y="429.7" width="5" height="5" fill="none" stroke="#ff1010" stroke-width="1.2"/>
<rect x="384.0" y="445.0" width="5" height="5" fill="none" stroke="#ff1010" stroke-width="1.2"/>
<rect x="364.8" y="451.2" width="5" height="5" fill="none" stroke="#ff1010" stroke-width="1.2"/>
<rect x="368.2" y="446.7" width="5" height="5" fill="none" stroke="#ff1010" stroke-width="1.2"/>
<rect x="377.2" y="435.9" width="5" height="5" fill="none" stroke="#ff1010" stroke-width="1.2"/>
<rect x="396.3" y="432.1" width="5" height="5" fill="none" stroke="#ff1010" stroke-width="1.2"/>
<rect x="401.5" y="427.9" width="5" height="5" fill="none" stroke="#ff1010" stroke-width="1.2"/>
<rect x="403.8" y="430.7" width="5" height="5" fill="none" stroke="#ff1010" stroke-width="1.2"/>
<rect x="409.5" y="429.8" width="5" height="5" fill="none" stroke="#ff1010" stroke-width="1.2"/>
<rect x="324.4" y="274" width="216.30" height="189.7" fill="none" stroke="#595959" stroke-width="1"/>
<line x1="321.4" y1="463.7" x2="327.4" y2="463.7" stroke="#595959" stroke-width="1"/>
<text x="315.9" y="467.0" class="t" text-anchor="end" font-size="10" fill="#222">0</text>
<line x1="324.4" y1="451.05" x2="326.9" y2="451.05" stroke="#595959" stroke-width="0.8"/>
<line x1="324.4" y1="438.40" x2="326.9" y2="438.40" stroke="#595959" stroke-width="0.8"/>
<line x1="324.4" y1="425.76" x2="326.9" y2="425.76" stroke="#595959" stroke-width="0.8"/>
<line x1="324.4" y1="413.11" x2="326.9" y2="413.11" stroke="#595959" stroke-width="0.8"/>
<line x1="321.4" y1="400.46" x2="327.4" y2="400.46" stroke="#595959" stroke-width="1"/>
<text x="315.9" y="403.76" class="t" text-anchor="end" font-size="10" fill="#222">0.1</text>
<line x1="324.4" y1="387.82" x2="326.9" y2="387.82" stroke="#595959" stroke-width="0.8"/>
<line x1="324.4" y1="375.17" x2="326.9" y2="375.17" stroke="#595959" stroke-width="0.8"/>
<line x1="324.4" y1="362.52" x2="326.9" y2="362.52" stroke="#595959" stroke-width="0.8"/>
<line x1="324.4" y1="349.88" x2="326.9" y2="349.88" stroke="#595959" stroke-width="0.8"/>
<line x1="321.4" y1="337.23" x2="327.4" y2="337.23" stroke="#595959" stroke-width="1"/>
<text x="315.9" y="340.53" class="t" text-anchor="end" font-size="10" fill="#222">0.2</text>
<line x1="324.4" y1="324.58" x2="326.9" y2="324.58" stroke="#595959" stroke-width="0.8"/>
<line x1="324.4" y1="311.94" x2="326.9" y2="311.94" stroke="#595959" stroke-width="0.8"/>
<line x1="324.4" y1="299.29" x2="326.9" y2="299.29" stroke="#595959" stroke-width="0.8"/>
<line x1="324.4" y1="286.64" x2="326.9" y2="286.64" stroke="#595959" stroke-width="0.8"/>
<line x1="321.4" y1="274.0" x2="327.4" y2="274.0" stroke="#595959" stroke-width="1"/>
<text x="315.9" y="277.3" class="t" text-anchor="end" font-size="10" fill="#222">0.3</text>
<line x1="324.4" y1="462.7" x2="324.4" y2="467.2" stroke="#595959" stroke-width="1"/>
<text x="324.4" y="479.0" class="t" text-anchor="middle" font-size="10" fill="#222">0</text>
<line x1="338.82" y1="463.7" x2="338.82" y2="461.2" stroke="#595959" stroke-width="0.8"/>
<line x1="353.24" y1="463.7" x2="353.24" y2="461.2" stroke="#595959" stroke-width="0.8"/>
<line x1="367.65" y1="463.7" x2="367.65" y2="461.2" stroke="#595959" stroke-width="0.8"/>
<line x1="382.08" y1="463.7" x2="382.08" y2="461.2" stroke="#595959" stroke-width="0.8"/>
<line x1="396.5" y1="462.7" x2="396.5" y2="467.2" stroke="#595959" stroke-width="1"/>
<text x="396.5" y="479.0" class="t" text-anchor="middle" font-size="10" fill="#222">0.1</text>
<line x1="410.92" y1="463.7" x2="410.92" y2="461.2" stroke="#595959" stroke-width="0.8"/>
<line x1="425.34" y1="463.7" x2="425.34" y2="461.2" stroke="#595959" stroke-width="0.8"/>
<line x1="439.76" y1="463.7" x2="439.76" y2="461.2" stroke="#595959" stroke-width="0.8"/>
<line x1="454.18" y1="463.7" x2="454.18" y2="461.2" stroke="#595959" stroke-width="0.8"/>
<line x1="468.6" y1="462.7" x2="468.6" y2="467.2" stroke="#595959" stroke-width="1"/>
<text x="468.6" y="479.0" class="t" text-anchor="middle" font-size="10" fill="#222">0.2</text>
<line x1="483.02" y1="463.7" x2="483.02" y2="461.2" stroke="#595959" stroke-width="0.8"/>
<line x1="497.44" y1="463.7" x2="497.44" y2="461.2" stroke="#595959" stroke-width="0.8"/>
<line x1="511.86" y1="463.7" x2="511.86" y2="461.2" stroke="#595959" stroke-width="0.8"/>
<line x1="526.28" y1="463.7" x2="526.28" y2="461.2" stroke="#595959" stroke-width="0.8"/>
<line x1="540.7" y1="462.7" x2="540.7" y2="467.2" stroke="#595959" stroke-width="1"/>
<text x="540.7" y="479.0" class="t" text-anchor="middle" font-size="10" fill="#222">0.3</text>
<text x="334" y="291" font-size="12" textLength="92" lengthAdjust="spacingAndGlyphs" fill="#111">Zhang et al. (2003)</text>
<text x="448.8" y="298.4" font-size="12" textLength="28.4" lengthAdjust="spacingAndGlyphs" fill="#111">+20%</text>
<text x="507.5" y="348.6" font-size="12" textLength="27.8" lengthAdjust="spacingAndGlyphs" fill="#111">&#8722;20%</text>
<text x="337.5" y="495.3" font-size="12.3" textLength="192.0" lengthAdjust="spacingAndGlyphs" fill="#111">Liquid Holdup Experimental Measurement</text>
<text transform="translate(298.5,441.5) rotate(-90)" x="0" y="0" font-size="12.3" textLength="147.0" lengthAdjust="spacingAndGlyphs" fill="#111">Liquid Holdup Model Prediction</text>
<text x="414.3" y="525" text-anchor="middle" font-size="11.5" font-weight="bold" fill="#111">(f)</text>
</g>
</svg></body></html>
